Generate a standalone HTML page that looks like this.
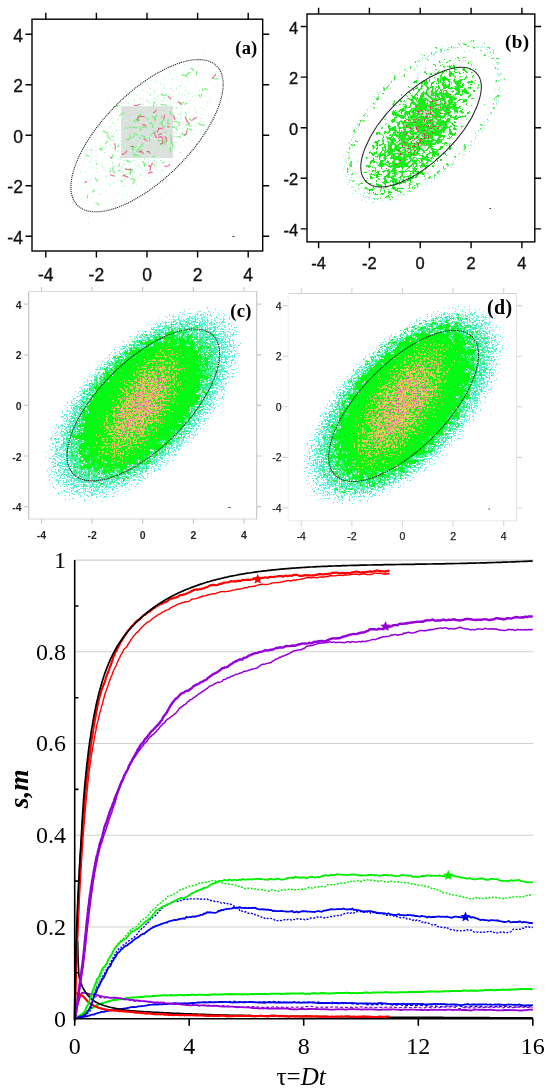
<!DOCTYPE html><html><head><meta charset="utf-8"><title>figure</title><style>html,body{margin:0;padding:0;background:#fff;width:550px;height:1092px;overflow:hidden}</style></head><body><svg width="550" height="1092" viewBox="0 0 550 1092" style="display:block">
<rect width="550" height="1092" fill="#fff"/>
<defs><filter id="fa3" filterUnits="userSpaceOnUse" x="33" y="20" width="229" height="230" color-interpolation-filters="sRGB"><feComponentTransfer in="SourceAlpha" result="M"><feFuncA type="linear" slope="60" intercept="-0.5"/></feComponentTransfer><feTurbulence type="fractalNoise" baseFrequency="0.5" numOctaves="1" seed="33"/><feColorMatrix type="matrix" values="0 0 0 0 0 0 0 0 0 0 0 0 0 0 0 1 0 0 0 0"/><feComposite in2="SourceAlpha" operator="arithmetic" k1="0" k2="4.0" k3="1" k4="-2.9500"/><feComponentTransfer><feFuncA type="linear" slope="40" intercept="-20.0"/></feComponentTransfer><feComposite in2="M" operator="in" result="R"/><feFlood flood-color="#c8f8d8"/><feComposite in2="R" operator="in"/></filter></defs><rect x="121.2" y="106.2" width="51.8" height="51.8" fill="#dedede"/><g filter="url(#fa3)"><ellipse transform="translate(147.1 135.7) rotate(-45)" rx="125.0" ry="62.0" fill="url(#gr2)"/></g><path d="M107.6 141.3l-1.2 1.2l-0.7 1.2M184.8 135.3l-1.6 -0.6l-0.9 -2.0M97.5 181.3l-1.2 -1.4l-0.9 -2.0M134.1 156.5l-0.1 -2.2l-0.7 -1.1M110.7 170.6l-1.0 1.3M99.4 148.8l1.6 0.7l1.1 1.0M139.1 115.2l-0.8 1.1l-0.7 1.2M122.2 176.3l2.0 -1.0l1.5 0.4M218.1 78.1l-1.7 1.0l-2.0 -0.3l-1.6 -0.4M157.0 115.0l-1.4 0.9l-1.0 1.6l0.2 2.3M122.2 181.8l-1.2 -1.2M101.4 148.8l1.1 -1.3M139.5 130.5l1.3 -1.0l-0.0 -1.5M138.8 148.4l-1.4 1.6l-0.7 1.3M136.0 147.1l-1.9 0.9l-1.7 0.5M169.6 111.6l1.4 1.8l1.1 1.4M141.4 149.5l-1.1 1.3l-0.3 2.0M149.9 141.3l-0.4 -1.3l-0.2 -1.5l0.1 -1.3M201.6 94.1l-0.3 1.7M174.0 122.0l1.9 -0.7l1.7 1.2l2.2 0.2M124.1 113.0l-1.3 0.5l-1.6 0.9l-1.7 1.3M163.9 142.8l-1.8 1.0l-1.7 0.8M107.9 132.5l-1.5 0.2l-1.8 -1.0l-1.5 -0.4M161.0 116.8l1.5 0.4M196.8 71.4l-0.3 1.5l0.2 1.8M170.4 135.1l0.6 2.1l0.3 2.0l0.2 1.5M134.4 181.2l-0.5 1.2l-1.3 0.8M172.5 127.4l1.5 -0.3l1.8 1.3l1.5 1.6M140.1 138.4l-1.0 -1.0M155.2 156.2l-2.2 0.4M87.7 195.4l-0.3 1.3l-0.1 1.5M128.5 139.2l-1.4 0.2l-1.3 0.6M184.9 104.3l1.9 -1.1M163.8 119.5l-1.3 1.8l-0.6 1.2l-0.4 1.4M164.5 139.4l-0.0 1.7l0.0 2.0l0.3 1.6M166.4 95.1l-1.8 0.4l-1.9 -0.2l-1.2 -1.7M137.4 134.9l-1.3 -0.6l-1.7 -0.5M178.5 101.3l1.0 1.2l2.1 0.3l2.1 -0.1M135.2 122.2l-1.4 -0.9M158.3 140.4l2.1 0.5M130.8 178.7l2.2 0.1l1.2 0.6l0.9 1.3M125.6 127.5l1.4 0.9M109.7 139.2l-1.3 -1.4l-0.5 -2.0l-0.0 -1.8M160.4 122.3l-0.4 1.3M117.5 146.1l1.5 -0.3M162.9 162.6l1.6 -0.5M191.4 121.0l-0.9 -1.6l-1.3 -0.4M91.4 149.3l-0.4 1.3M113.0 154.8l-0.3 1.4l-0.9 2.1M146.7 118.1l1.5 1.1M113.9 106.9l1.4 -0.7l2.2 -0.3l1.5 -0.2M161.5 104.7l1.5 -0.2l1.8 0.5l1.8 0.2M155.0 165.9l-0.9 -1.2M154.4 102.0l-0.6 2.0l-0.6 2.1M140.6 114.2l-0.6 1.9l-1.1 1.1M155.1 117.1l0.6 2.1l-0.3 1.7M130.2 145.9l1.7 0.9l1.0 2.0l0.2 1.9M128.8 139.6l1.3 -1.2l1.3 -0.9M112.9 167.2l-0.1 2.3l0.6 2.1l0.8 1.7M161.9 124.2l1.1 2.0l1.6 0.8M178.4 124.1l1.5 1.3M118.3 170.6l1.9 -0.1M181.7 74.7l1.4 0.2l2.1 0.6l1.9 1.0M168.9 124.3l-1.1 -1.4l0.1 -1.7l0.5 -1.7M134.5 154.4l1.4 0.2l1.6 0.6l1.3 1.1M170.6 142.0l1.5 1.3l0.6 1.6l-0.0 2.1M130.4 168.5l0.2 1.7l-0.1 1.9l-0.2 2.0M143.5 143.7l-1.3 1.2l-1.4 1.6l-1.0 1.0M86.0 155.1l1.3 0.7l1.7 0.2M92.6 192.2l1.1 -1.4l0.4 -1.2M165.2 142.7l-1.6 0.6M143.9 164.4l0.2 -1.6l-1.6 -1.4M150.7 123.0l1.5 1.1l0.2 1.5l0.5 2.2M198.4 123.4l1.7 1.0l2.1 0.5l2.2 0.2M96.2 164.4l1.1 -0.9M130.1 135.3l0.2 1.3M145.7 138.1l-1.4 -1.6l-1.8 -0.5l-1.3 -0.8M130.2 161.7l-1.6 0.0l-1.9 -0.8M132.4 170.2l-1.4 1.2l-0.3 1.3l-1.4 1.3M190.3 72.5l-1.4 0.2l-1.1 1.0l-1.6 1.5M186.7 130.4l1.2 -1.7l2.1 0.6l2.0 0.9M96.2 203.2l1.3 0.5l1.1 1.2M186.8 124.6l1.7 -0.4l1.6 1.6l1.4 0.2M193.5 70.3l-1.2 -1.7l-1.5 0.0M206.8 89.8l-1.5 -1.0l-1.6 0.3l-1.5 1.4M198.8 95.0l0.9 1.0l0.4 1.3M170.7 151.4l-0.1 -1.7l-0.9 -2.0M132.9 127.3l2.2 0.4l2.1 -0.0M180.7 137.1l-1.4 -0.6l-1.6 -0.2M146.3 127.9l-1.5 -1.1l-1.4 0.3l-2.0 -0.3M165.1 131.8l1.0 0.9M113.6 136.2l-1.7 -0.2M153.4 116.4l-0.9 1.0M118.8 165.9l0.6 -1.9M145.1 164.2l-0.5 1.9M155.8 131.0l-1.9 0.8l-1.4 1.8l-1.5 1.5M130.8 127.2l-1.5 0.1M133.3 137.2l1.2 -1.6M149.5 123.2l1.9 -0.2M134.6 120.2l1.8 -0.6l2.2 -0.0l1.0 1.3" stroke="#60f060" stroke-width="1.15" fill="none" stroke-linecap="round" stroke-linejoin="round" opacity="0.85"/><path d="M187.0 131.0l-0.3 1.9l-1.0 1.3l-1.2 0.8M158.7 135.0l1.9 -1.0l1.3 -0.4M186.8 121.5l-0.1 -1.5l-1.0 -1.8l-0.5 -1.3M113.9 175.9l-1.6 -0.4l-2.0 -0.8M164.5 115.2l-0.1 1.7l-0.7 2.0M148.6 173.8l0.6 -1.2l2.0 -0.5l1.3 0.1M123.8 174.6l1.3 1.7l1.5 0.3l1.5 0.8M162.8 139.1l-0.8 -1.7l-1.5 -0.8l-2.0 1.0M146.0 126.0l-1.5 -1.1l-1.8 -0.3M122.1 154.7l1.9 -0.9l1.6 -1.2l1.2 -1.8M114.8 143.5l0.4 2.3l0.2 2.2l-0.6 1.3M168.3 96.6l1.2 1.2l1.3 0.9M160.7 128.4l-1.4 -0.2l-1.2 1.9l-0.7 2.1M85.0 182.1l1.8 -0.2M186.8 120.4l1.0 1.9l1.6 1.4M150.0 153.2l-1.1 -1.6l-1.7 -0.1M138.8 151.9l1.7 -0.3l1.4 0.1l1.4 1.7M173.8 115.5l0.1 1.5l0.5 1.2l0.5 1.5M133.5 146.4l-2.0 0.1M164.8 166.4l1.8 -0.2l2.1 -0.4l0.9 -1.3M134.6 105.4l1.8 0.1l1.6 -0.6l1.5 -0.5M215.4 74.6l-0.6 1.3l-1.5 1.5l-1.1 1.0M162.2 140.3l0.6 1.7l-1.0 1.4l-1.5 0.5M143.9 138.9l1.5 0.8l1.6 1.2M144.3 116.9l-1.5 -0.5l-2.1 0.0M110.1 156.9l1.5 1.0M196.5 117.8l-1.5 0.3l-1.3 0.6l-1.0 1.4M139.4 116.3l-1.3 1.7l-1.0 1.6l0.7 1.2M162.3 127.8l-0.3 1.5M153.4 112.7l1.3 -0.8l1.5 -1.5M148.8 165.4l1.6 1.2l0.2 1.4l-0.6 2.0M125.3 168.7l1.8 0.8l2.0 0.1l2.2 -0.3M154.8 132.6l0.0 1.8l0.7 2.1l1.0 0.9M167.6 126.6l2.0 0.4M164.8 136.8l1.3 1.0l0.3 2.0l0.0 1.8M181.3 104.7l-0.5 -1.3l-1.3 -0.5l-1.4 -1.0M158.9 129.5l-0.3 -1.4M149.0 166.6l1.7 -0.8l1.2 -1.0l0.3 -1.9" stroke="#f04a7a" stroke-width="1.1" fill="none" stroke-linecap="round" stroke-linejoin="round" opacity="0.85"/><ellipse transform="translate(147.06 135.72) rotate(-45)" rx="98.5" ry="43.4" fill="none" stroke="#222" stroke-width="1.1" stroke-dasharray="1.1 0.9"/>
<defs><filter id="fb0" filterUnits="userSpaceOnUse" x="308" y="15" width="226" height="226" color-interpolation-filters="sRGB"><feComponentTransfer in="SourceAlpha" result="M"><feFuncA type="linear" slope="60" intercept="-0.5"/></feComponentTransfer><feTurbulence type="fractalNoise" baseFrequency="0.1" numOctaves="2" seed="40"/><feColorMatrix type="matrix" values="0 0 0 0 0 0 0 0 0 0 0 0 0 0 0 1 0 0 0 0"/><feComposite in2="SourceAlpha" operator="arithmetic" k1="0" k2="1.0" k3="1" k4="-0.4500"/><feComponentTransfer><feFuncA type="linear" slope="40" intercept="-20.0"/></feComponentTransfer><feComposite in2="M" operator="in" result="R"/><feFlood flood-color="#e0dcdc"/><feComposite in2="R" operator="in"/></filter><filter id="fb1" filterUnits="userSpaceOnUse" x="308" y="15" width="226" height="226" color-interpolation-filters="sRGB"><feComponentTransfer in="SourceAlpha" result="M"><feFuncA type="linear" slope="60" intercept="-0.5"/></feComponentTransfer><feTurbulence type="fractalNoise" baseFrequency="0.55" numOctaves="2" seed="41"/><feColorMatrix type="matrix" values="0 0 0 0 0 0 0 0 0 0 0 0 0 0 0 1 0 0 0 0"/><feComposite in2="SourceAlpha" operator="arithmetic" k1="0" k2="2.0" k3="1" k4="-1.7000"/><feComponentTransfer><feFuncA type="linear" slope="40" intercept="-20.0"/></feComponentTransfer><feComposite in2="M" operator="in" result="R"/><feFlood flood-color="#a0f0e0"/><feComposite in2="R" operator="in"/></filter><filter id="fb2" filterUnits="userSpaceOnUse" x="308" y="15" width="226" height="226" color-interpolation-filters="sRGB"><feComponentTransfer in="SourceAlpha" result="M"><feFuncA type="linear" slope="60" intercept="-0.5"/></feComponentTransfer><feTurbulence type="fractalNoise" baseFrequency="0.25" numOctaves="2" seed="43"/><feColorMatrix type="matrix" values="0 0 0 0 0 0 0 0 0 0 0 0 0 0 0 1 0 0 0 0"/><feComposite in2="SourceAlpha" operator="arithmetic" k1="0" k2="1.2" k3="1" k4="-0.3400"/><feComponentTransfer><feFuncA type="linear" slope="40" intercept="-20.0"/></feComponentTransfer><feComposite in2="M" operator="in" result="R"/><feTurbulence type="fractalNoise" baseFrequency="0.18" numOctaves="1" seed="42"/><feColorMatrix type="matrix" values="0 0 0 0 0 0 0 0 0 0 0 0 0 0 0 1 0 0 0 0"/><feComponentTransfer><feFuncA type="table" tableValues="0 0 0 0 1 0 0 0 0"/></feComponentTransfer><feComponentTransfer><feFuncA type="linear" slope="3" intercept="-0.8"/></feComponentTransfer><feComposite in2="R" operator="in" result="LR"/><feFlood flood-color="#10ee10"/><feComposite in2="LR" operator="in"/></filter><filter id="fb5" filterUnits="userSpaceOnUse" x="308" y="15" width="226" height="226" color-interpolation-filters="sRGB"><feComponentTransfer in="SourceAlpha" result="M"><feFuncA type="linear" slope="60" intercept="-0.5"/></feComponentTransfer><feTurbulence type="fractalNoise" baseFrequency="0.25" numOctaves="2" seed="53"/><feColorMatrix type="matrix" values="0 0 0 0 0 0 0 0 0 0 0 0 0 0 0 1 0 0 0 0"/><feComposite in2="SourceAlpha" operator="arithmetic" k1="0" k2="1.5" k3="1" k4="-0.5900"/><feComponentTransfer><feFuncA type="linear" slope="40" intercept="-20.0"/></feComponentTransfer><feComposite in2="M" operator="in" result="R"/><feTurbulence type="fractalNoise" baseFrequency="0.22" numOctaves="1" seed="52"/><feColorMatrix type="matrix" values="0 0 0 0 0 0 0 0 0 0 0 0 0 0 0 1 0 0 0 0"/><feComponentTransfer><feFuncA type="table" tableValues="0 0 0 0 0 1 0 0 0 0 0"/></feComponentTransfer><feComponentTransfer><feFuncA type="linear" slope="3" intercept="-0.8"/></feComponentTransfer><feComposite in2="R" operator="in" result="LR"/><feFlood flood-color="#20e820"/><feComposite in2="LR" operator="in"/></filter><filter id="fb3" filterUnits="userSpaceOnUse" x="308" y="15" width="226" height="226" color-interpolation-filters="sRGB"><feComponentTransfer in="SourceAlpha" result="M"><feFuncA type="linear" slope="60" intercept="-0.5"/></feComponentTransfer><feTurbulence type="fractalNoise" baseFrequency="0.3" numOctaves="1" seed="45"/><feColorMatrix type="matrix" values="0 0 0 0 0 0 0 0 0 0 0 0 0 0 0 1 0 0 0 0"/><feComposite in2="SourceAlpha" operator="arithmetic" k1="0" k2="2.0" k3="1" k4="-1.5000"/><feComponentTransfer><feFuncA type="linear" slope="40" intercept="-20.0"/></feComponentTransfer><feComposite in2="M" operator="in" result="R"/><feTurbulence type="fractalNoise" baseFrequency="0.2" numOctaves="1" seed="44"/><feColorMatrix type="matrix" values="0 0 0 0 0 0 0 0 0 0 0 0 0 0 0 1 0 0 0 0"/><feComponentTransfer><feFuncA type="table" tableValues="0 0 0 0 0 1 0 0 0 0 0"/></feComponentTransfer><feComponentTransfer><feFuncA type="linear" slope="3" intercept="-0.8"/></feComponentTransfer><feComposite in2="R" operator="in" result="LR"/><feFlood flood-color="#48ee48"/><feComposite in2="LR" operator="in"/></filter><filter id="fb4" filterUnits="userSpaceOnUse" x="308" y="15" width="226" height="226" color-interpolation-filters="sRGB"><feComponentTransfer in="SourceAlpha" result="M"><feFuncA type="linear" slope="60" intercept="-0.5"/></feComponentTransfer><feTurbulence type="fractalNoise" baseFrequency="0.5" numOctaves="2" seed="46"/><feColorMatrix type="matrix" values="0 0 0 0 0 0 0 0 0 0 0 0 0 0 0 1 0 0 0 0"/><feComposite in2="SourceAlpha" operator="arithmetic" k1="0" k2="3.0" k3="1" k4="-2.4000"/><feComponentTransfer><feFuncA type="linear" slope="40" intercept="-20.0"/></feComponentTransfer><feComposite in2="M" operator="in" result="R"/><feFlood flood-color="#e83058"/><feComposite in2="R" operator="in"/></filter><filter id="fb6" filterUnits="userSpaceOnUse" x="308" y="15" width="226" height="226" color-interpolation-filters="sRGB"><feComponentTransfer in="SourceAlpha" result="M"><feFuncA type="linear" slope="60" intercept="-0.5"/></feComponentTransfer><feTurbulence type="fractalNoise" baseFrequency="0.3" numOctaves="1" seed="63"/><feColorMatrix type="matrix" values="0 0 0 0 0 0 0 0 0 0 0 0 0 0 0 1 0 0 0 0"/><feComposite in2="SourceAlpha" operator="arithmetic" k1="0" k2="2.0" k3="1" k4="-1.7000"/><feComponentTransfer><feFuncA type="linear" slope="40" intercept="-20.0"/></feComponentTransfer><feComposite in2="M" operator="in" result="R"/><feTurbulence type="fractalNoise" baseFrequency="0.2" numOctaves="1" seed="62"/><feColorMatrix type="matrix" values="0 0 0 0 0 0 0 0 0 0 0 0 0 0 0 1 0 0 0 0"/><feComponentTransfer><feFuncA type="table" tableValues="0 0 0 0 0 1 0 0 0 0 0"/></feComponentTransfer><feComponentTransfer><feFuncA type="linear" slope="3" intercept="-0.8"/></feComponentTransfer><feComposite in2="R" operator="in" result="LR"/><feFlood flood-color="#30ea30"/><feComposite in2="LR" operator="in"/></filter></defs><g filter="url(#fb0)"><ellipse transform="translate(420.1 128.6) rotate(-55)" rx="70.0" ry="30.0" fill="url(#gr1_0)"/></g><g filter="url(#fb1)"><ellipse transform="translate(423.1 122.1) rotate(-45)" rx="114.0" ry="60.0" fill="url(#ringb)"/></g><g filter="url(#fb3)"><ellipse transform="translate(424.1 119.1) rotate(-45)" rx="112.0" ry="58.0" fill="url(#ringb)"/></g><g filter="url(#fb6)"><ellipse transform="translate(421.1 127.1) rotate(-45)" rx="80.0" ry="36.0" fill="url(#gr3)"/></g><g filter="url(#fb2)"><ellipse transform="translate(420.1 128.6) rotate(-55)" rx="90.0" ry="38.0" fill="url(#gr1_0)"/></g><g filter="url(#fb5)"><ellipse transform="translate(420.1 128.6) rotate(-55)" rx="86.0" ry="36.0" fill="url(#gr1_0)"/></g><g filter="url(#fb4)"><ellipse transform="translate(420.1 129.1) rotate(-55)" rx="72.0" ry="30.0" fill="url(#gr2)"/></g><ellipse transform="translate(421.07 127.13) rotate(-44.7)" rx="77.4" ry="34.5" fill="none" stroke="#2a2a2a" stroke-width="1.05"/>
<defs><filter id="fc0" filterUnits="userSpaceOnUse" x="29.5" y="292.5" width="226.5" height="226" color-interpolation-filters="sRGB"><feComponentTransfer in="SourceAlpha" result="M"><feFuncA type="linear" slope="60" intercept="-0.5"/></feComponentTransfer><feTurbulence type="fractalNoise" baseFrequency="0.55" numOctaves="2" seed="3"/><feColorMatrix type="matrix" values="0 0 0 0 0 0 0 0 0 0 0 0 0 0 0 1 0 0 0 0"/><feComposite in2="SourceAlpha" operator="arithmetic" k1="0" k2="0.8" k3="1" k4="-0.0500"/><feComponentTransfer><feFuncA type="linear" slope="40" intercept="-20.0"/></feComponentTransfer><feComposite in2="M" operator="in" result="R"/><feTurbulence type="fractalNoise" baseFrequency="0.6" numOctaves="1" seed="77"/><feColorMatrix type="matrix" values="0 0 0 0 0 0 0 0 0 0 0 0 0 0 0 1 0 0 0 0"/><feComponentTransfer><feFuncA type="linear" slope="40" intercept="-16.000"/></feComponentTransfer><feComposite in2="R" operator="in" result="RK"/><feFlood flood-color="#5cf4ea"/><feComposite in2="RK" operator="in"/></filter><filter id="fc1" filterUnits="userSpaceOnUse" x="29.5" y="292.5" width="226.5" height="226" color-interpolation-filters="sRGB"><feComponentTransfer in="SourceAlpha" result="M"><feFuncA type="linear" slope="60" intercept="-0.5"/></feComponentTransfer><feTurbulence type="fractalNoise" baseFrequency="0.55" numOctaves="2" seed="9"/><feColorMatrix type="matrix" values="0 0 0 0 0 0 0 0 0 0 0 0 0 0 0 1 0 0 0 0"/><feComposite in2="SourceAlpha" operator="arithmetic" k1="0" k2="0.8" k3="1" k4="-0.0500"/><feComponentTransfer><feFuncA type="linear" slope="40" intercept="-20.0"/></feComponentTransfer><feComposite in2="M" operator="in" result="R"/><feTurbulence type="fractalNoise" baseFrequency="0.6" numOctaves="1" seed="77"/><feColorMatrix type="matrix" values="0 0 0 0 0 0 0 0 0 0 0 0 0 0 0 1 0 0 0 0"/><feComponentTransfer><feFuncA type="linear" slope="40" intercept="-16.000"/></feComponentTransfer><feComposite in2="R" operator="in" result="RK"/><feFlood flood-color="#4cf0b8"/><feComposite in2="RK" operator="in"/></filter><filter id="fc2" filterUnits="userSpaceOnUse" x="29.5" y="292.5" width="226.5" height="226" color-interpolation-filters="sRGB"><feComponentTransfer in="SourceAlpha" result="M"><feFuncA type="linear" slope="60" intercept="-0.5"/></feComponentTransfer><feTurbulence type="fractalNoise" baseFrequency="0.35" numOctaves="2" seed="11"/><feColorMatrix type="matrix" values="0 0 0 0 0 0 0 0 0 0 0 0 0 0 0 1 0 0 0 0"/><feComposite in2="SourceAlpha" operator="arithmetic" k1="0" k2="1.0" k3="1" k4="-0.1500"/><feComponentTransfer><feFuncA type="linear" slope="40" intercept="-20.0"/></feComponentTransfer><feComposite in2="M" operator="in" result="R"/><feTurbulence type="fractalNoise" baseFrequency="0.6" numOctaves="1" seed="77"/><feColorMatrix type="matrix" values="0 0 0 0 0 0 0 0 0 0 0 0 0 0 0 1 0 0 0 0"/><feComponentTransfer><feFuncA type="linear" slope="40" intercept="-16.000"/></feComponentTransfer><feComposite in2="R" operator="in" result="RK"/><feFlood flood-color="#28f058"/><feComposite in2="RK" operator="in"/></filter><filter id="fc3" filterUnits="userSpaceOnUse" x="29.5" y="292.5" width="226.5" height="226" color-interpolation-filters="sRGB"><feComponentTransfer in="SourceAlpha" result="M"><feFuncA type="linear" slope="60" intercept="-0.5"/></feComponentTransfer><feTurbulence type="fractalNoise" baseFrequency="0.2" numOctaves="3" seed="5"/><feColorMatrix type="matrix" values="0 0 0 0 0 0 0 0 0 0 0 0 0 0 0 1 0 0 0 0"/><feComposite in2="SourceAlpha" operator="arithmetic" k1="0" k2="0.5" k3="1" k4="0.1000"/><feComponentTransfer><feFuncA type="linear" slope="40" intercept="-20.0"/></feComponentTransfer><feComposite in2="M" operator="in" result="R"/><feFlood flood-color="#04fa14"/><feComposite in2="R" operator="in"/></filter><filter id="fc4" filterUnits="userSpaceOnUse" x="29.5" y="292.5" width="226.5" height="226" color-interpolation-filters="sRGB"><feComponentTransfer in="SourceAlpha" result="M"><feFuncA type="linear" slope="60" intercept="-0.5"/></feComponentTransfer><feTurbulence type="fractalNoise" baseFrequency="0.45" numOctaves="2" seed="17"/><feColorMatrix type="matrix" values="0 0 0 0 0 0 0 0 0 0 0 0 0 0 0 1 0 0 0 0"/><feComposite in2="SourceAlpha" operator="arithmetic" k1="0" k2="3.0" k3="1" k4="-1.8400"/><feComponentTransfer><feFuncA type="linear" slope="40" intercept="-20.0"/></feComponentTransfer><feComposite in2="M" operator="in" result="R"/><feFlood flood-color="#c4e448"/><feComposite in2="R" operator="in"/></filter><filter id="fc5" filterUnits="userSpaceOnUse" x="29.5" y="292.5" width="226.5" height="226" color-interpolation-filters="sRGB"><feComponentTransfer in="SourceAlpha" result="M"><feFuncA type="linear" slope="60" intercept="-0.5"/></feComponentTransfer><feTurbulence type="fractalNoise" baseFrequency="0.5" numOctaves="2" seed="7"/><feColorMatrix type="matrix" values="0 0 0 0 0 0 0 0 0 0 0 0 0 0 0 1 0 0 0 0"/><feComposite in2="SourceAlpha" operator="arithmetic" k1="0" k2="3.0" k3="1" k4="-1.9800"/><feComponentTransfer><feFuncA type="linear" slope="40" intercept="-20.0"/></feComponentTransfer><feComposite in2="M" operator="in" result="R"/><feFlood flood-color="#ecb862"/><feComposite in2="R" operator="in"/></filter><filter id="fc6" filterUnits="userSpaceOnUse" x="29.5" y="292.5" width="226.5" height="226" color-interpolation-filters="sRGB"><feComponentTransfer in="SourceAlpha" result="M"><feFuncA type="linear" slope="60" intercept="-0.5"/></feComponentTransfer><feTurbulence type="fractalNoise" baseFrequency="0.55" numOctaves="2" seed="13"/><feColorMatrix type="matrix" values="0 0 0 0 0 0 0 0 0 0 0 0 0 0 0 1 0 0 0 0"/><feComposite in2="SourceAlpha" operator="arithmetic" k1="0" k2="3.0" k3="1" k4="-2.1600"/><feComponentTransfer><feFuncA type="linear" slope="40" intercept="-20.0"/></feComponentTransfer><feComposite in2="M" operator="in" result="R"/><feFlood flood-color="#ec9890"/><feComposite in2="R" operator="in"/></filter><filter id="fc7" filterUnits="userSpaceOnUse" x="29.5" y="292.5" width="226.5" height="226" color-interpolation-filters="sRGB"><feComponentTransfer in="SourceAlpha" result="M"><feFuncA type="linear" slope="60" intercept="-0.5"/></feComponentTransfer><feTurbulence type="fractalNoise" baseFrequency="0.6" numOctaves="2" seed="23"/><feColorMatrix type="matrix" values="0 0 0 0 0 0 0 0 0 0 0 0 0 0 0 1 0 0 0 0"/><feComposite in2="SourceAlpha" operator="arithmetic" k1="0" k2="3.0" k3="1" k4="-2.4500"/><feComponentTransfer><feFuncA type="linear" slope="40" intercept="-20.0"/></feComponentTransfer><feComposite in2="M" operator="in" result="R"/><feFlood flood-color="#dc60c8"/><feComposite in2="R" operator="in"/></filter></defs><g filter="url(#fc0)"><ellipse transform="translate(143.3 404.9) rotate(-45)" rx="127.1" ry="62.4" fill="url(#gr1_0)"/></g><g filter="url(#fc1)"><ellipse transform="translate(142.8 404.4) rotate(-45)" rx="118.8" ry="57.6" fill="url(#gr1_0)"/></g><g filter="url(#fc2)"><ellipse transform="translate(141.8 404.0) rotate(-48)" rx="103.5" ry="55.3" fill="url(#gr1_0)"/></g><g filter="url(#fc3)"><ellipse transform="translate(141.2 403.6) rotate(-49)" rx="95.3" ry="52.9" fill="url(#gr1_0)"/></g><g filter="url(#fc4)"><ellipse transform="translate(141.0 406.0) rotate(-58)" rx="80.0" ry="33.0" fill="url(#gr2)"/></g><g filter="url(#fc5)"><ellipse transform="translate(141.0 406.0) rotate(-58)" rx="80.0" ry="33.0" fill="url(#gr2)"/></g><g filter="url(#fc6)"><ellipse transform="translate(141.0 406.0) rotate(-58)" rx="80.0" ry="33.0" fill="url(#gr2)"/></g><g filter="url(#fc7)"><ellipse transform="translate(141.0 406.0) rotate(-58)" rx="80.0" ry="33.0" fill="url(#gr2)"/></g><ellipse transform="translate(143.35 404.90) rotate(-44.8)" rx="98.4" ry="43.7" fill="none" stroke="#1a1a1a" stroke-width="1.0" stroke-dasharray="1.3 0.7"/>
<defs><filter id="fd0" filterUnits="userSpaceOnUse" x="289" y="294" width="227" height="226" color-interpolation-filters="sRGB"><feComponentTransfer in="SourceAlpha" result="M"><feFuncA type="linear" slope="60" intercept="-0.5"/></feComponentTransfer><feTurbulence type="fractalNoise" baseFrequency="0.55" numOctaves="2" seed="3"/><feColorMatrix type="matrix" values="0 0 0 0 0 0 0 0 0 0 0 0 0 0 0 1 0 0 0 0"/><feComposite in2="SourceAlpha" operator="arithmetic" k1="0" k2="0.8" k3="1" k4="-0.0500"/><feComponentTransfer><feFuncA type="linear" slope="40" intercept="-20.0"/></feComponentTransfer><feComposite in2="M" operator="in" result="R"/><feTurbulence type="fractalNoise" baseFrequency="0.6" numOctaves="1" seed="77"/><feColorMatrix type="matrix" values="0 0 0 0 0 0 0 0 0 0 0 0 0 0 0 1 0 0 0 0"/><feComponentTransfer><feFuncA type="linear" slope="40" intercept="-16.000"/></feComponentTransfer><feComposite in2="R" operator="in" result="RK"/><feFlood flood-color="#5cf4ea"/><feComposite in2="RK" operator="in"/></filter><filter id="fd1" filterUnits="userSpaceOnUse" x="289" y="294" width="227" height="226" color-interpolation-filters="sRGB"><feComponentTransfer in="SourceAlpha" result="M"><feFuncA type="linear" slope="60" intercept="-0.5"/></feComponentTransfer><feTurbulence type="fractalNoise" baseFrequency="0.55" numOctaves="2" seed="9"/><feColorMatrix type="matrix" values="0 0 0 0 0 0 0 0 0 0 0 0 0 0 0 1 0 0 0 0"/><feComposite in2="SourceAlpha" operator="arithmetic" k1="0" k2="0.8" k3="1" k4="-0.0500"/><feComponentTransfer><feFuncA type="linear" slope="40" intercept="-20.0"/></feComponentTransfer><feComposite in2="M" operator="in" result="R"/><feTurbulence type="fractalNoise" baseFrequency="0.6" numOctaves="1" seed="77"/><feColorMatrix type="matrix" values="0 0 0 0 0 0 0 0 0 0 0 0 0 0 0 1 0 0 0 0"/><feComponentTransfer><feFuncA type="linear" slope="40" intercept="-16.000"/></feComponentTransfer><feComposite in2="R" operator="in" result="RK"/><feFlood flood-color="#4cf0b8"/><feComposite in2="RK" operator="in"/></filter><filter id="fd2" filterUnits="userSpaceOnUse" x="289" y="294" width="227" height="226" color-interpolation-filters="sRGB"><feComponentTransfer in="SourceAlpha" result="M"><feFuncA type="linear" slope="60" intercept="-0.5"/></feComponentTransfer><feTurbulence type="fractalNoise" baseFrequency="0.35" numOctaves="2" seed="11"/><feColorMatrix type="matrix" values="0 0 0 0 0 0 0 0 0 0 0 0 0 0 0 1 0 0 0 0"/><feComposite in2="SourceAlpha" operator="arithmetic" k1="0" k2="1.0" k3="1" k4="-0.1500"/><feComponentTransfer><feFuncA type="linear" slope="40" intercept="-20.0"/></feComponentTransfer><feComposite in2="M" operator="in" result="R"/><feTurbulence type="fractalNoise" baseFrequency="0.6" numOctaves="1" seed="77"/><feColorMatrix type="matrix" values="0 0 0 0 0 0 0 0 0 0 0 0 0 0 0 1 0 0 0 0"/><feComponentTransfer><feFuncA type="linear" slope="40" intercept="-16.000"/></feComponentTransfer><feComposite in2="R" operator="in" result="RK"/><feFlood flood-color="#28f058"/><feComposite in2="RK" operator="in"/></filter><filter id="fd3" filterUnits="userSpaceOnUse" x="289" y="294" width="227" height="226" color-interpolation-filters="sRGB"><feComponentTransfer in="SourceAlpha" result="M"><feFuncA type="linear" slope="60" intercept="-0.5"/></feComponentTransfer><feTurbulence type="fractalNoise" baseFrequency="0.2" numOctaves="3" seed="5"/><feColorMatrix type="matrix" values="0 0 0 0 0 0 0 0 0 0 0 0 0 0 0 1 0 0 0 0"/><feComposite in2="SourceAlpha" operator="arithmetic" k1="0" k2="0.5" k3="1" k4="0.1000"/><feComponentTransfer><feFuncA type="linear" slope="40" intercept="-20.0"/></feComponentTransfer><feComposite in2="M" operator="in" result="R"/><feFlood flood-color="#04fa14"/><feComposite in2="R" operator="in"/></filter><filter id="fd4" filterUnits="userSpaceOnUse" x="289" y="294" width="227" height="226" color-interpolation-filters="sRGB"><feComponentTransfer in="SourceAlpha" result="M"><feFuncA type="linear" slope="60" intercept="-0.5"/></feComponentTransfer><feTurbulence type="fractalNoise" baseFrequency="0.45" numOctaves="2" seed="17"/><feColorMatrix type="matrix" values="0 0 0 0 0 0 0 0 0 0 0 0 0 0 0 1 0 0 0 0"/><feComposite in2="SourceAlpha" operator="arithmetic" k1="0" k2="3.0" k3="1" k4="-1.8400"/><feComponentTransfer><feFuncA type="linear" slope="40" intercept="-20.0"/></feComponentTransfer><feComposite in2="M" operator="in" result="R"/><feFlood flood-color="#c4e448"/><feComposite in2="R" operator="in"/></filter><filter id="fd5" filterUnits="userSpaceOnUse" x="289" y="294" width="227" height="226" color-interpolation-filters="sRGB"><feComponentTransfer in="SourceAlpha" result="M"><feFuncA type="linear" slope="60" intercept="-0.5"/></feComponentTransfer><feTurbulence type="fractalNoise" baseFrequency="0.5" numOctaves="2" seed="7"/><feColorMatrix type="matrix" values="0 0 0 0 0 0 0 0 0 0 0 0 0 0 0 1 0 0 0 0"/><feComposite in2="SourceAlpha" operator="arithmetic" k1="0" k2="3.0" k3="1" k4="-1.9800"/><feComponentTransfer><feFuncA type="linear" slope="40" intercept="-20.0"/></feComponentTransfer><feComposite in2="M" operator="in" result="R"/><feFlood flood-color="#ecb862"/><feComposite in2="R" operator="in"/></filter><filter id="fd6" filterUnits="userSpaceOnUse" x="289" y="294" width="227" height="226" color-interpolation-filters="sRGB"><feComponentTransfer in="SourceAlpha" result="M"><feFuncA type="linear" slope="60" intercept="-0.5"/></feComponentTransfer><feTurbulence type="fractalNoise" baseFrequency="0.55" numOctaves="2" seed="13"/><feColorMatrix type="matrix" values="0 0 0 0 0 0 0 0 0 0 0 0 0 0 0 1 0 0 0 0"/><feComposite in2="SourceAlpha" operator="arithmetic" k1="0" k2="3.0" k3="1" k4="-2.1600"/><feComponentTransfer><feFuncA type="linear" slope="40" intercept="-20.0"/></feComponentTransfer><feComposite in2="M" operator="in" result="R"/><feFlood flood-color="#ec9890"/><feComposite in2="R" operator="in"/></filter><filter id="fd7" filterUnits="userSpaceOnUse" x="289" y="294" width="227" height="226" color-interpolation-filters="sRGB"><feComponentTransfer in="SourceAlpha" result="M"><feFuncA type="linear" slope="60" intercept="-0.5"/></feComponentTransfer><feTurbulence type="fractalNoise" baseFrequency="0.6" numOctaves="2" seed="23"/><feColorMatrix type="matrix" values="0 0 0 0 0 0 0 0 0 0 0 0 0 0 0 1 0 0 0 0"/><feComposite in2="SourceAlpha" operator="arithmetic" k1="0" k2="3.0" k3="1" k4="-2.4500"/><feComponentTransfer><feFuncA type="linear" slope="40" intercept="-20.0"/></feComponentTransfer><feComposite in2="M" operator="in" result="R"/><feFlood flood-color="#dc60c8"/><feComposite in2="R" operator="in"/></filter></defs><g filter="url(#fd0)"><ellipse transform="translate(403.6 405.9) rotate(-45)" rx="129.4" ry="64.7" fill="url(#gr1_0)"/></g><g filter="url(#fd1)"><ellipse transform="translate(403.0 405.2) rotate(-45)" rx="122.4" ry="60.0" fill="url(#gr1_0)"/></g><g filter="url(#fd2)"><ellipse transform="translate(403.6 404.5) rotate(-48)" rx="112.9" ry="58.8" fill="url(#gr1_0)"/></g><g filter="url(#fd3)"><ellipse transform="translate(403.6 403.6) rotate(-50)" rx="105.9" ry="56.5" fill="url(#gr1_0)"/></g><g filter="url(#fd4)"><ellipse transform="translate(402.0 405.0) rotate(-56)" rx="88.0" ry="37.0" fill="url(#gr2)"/></g><g filter="url(#fd5)"><ellipse transform="translate(402.0 405.0) rotate(-56)" rx="88.0" ry="37.0" fill="url(#gr2)"/></g><g filter="url(#fd6)"><ellipse transform="translate(402.0 405.0) rotate(-56)" rx="88.0" ry="37.0" fill="url(#gr2)"/></g><g filter="url(#fd7)"><ellipse transform="translate(402.0 405.0) rotate(-56)" rx="88.0" ry="37.0" fill="url(#gr2)"/></g><ellipse transform="translate(403.67 405.92) rotate(-45.36)" rx="97.4" ry="42.8" fill="none" stroke="#1a1a1a" stroke-width="1.0" stroke-dasharray="1.3 0.7"/>
<defs><radialGradient id="gr2"><stop offset="0.00" stop-opacity="1.000"/><stop offset="0.10" stop-opacity="0.990"/><stop offset="0.20" stop-opacity="0.960"/><stop offset="0.30" stop-opacity="0.910"/><stop offset="0.40" stop-opacity="0.840"/><stop offset="0.50" stop-opacity="0.750"/><stop offset="0.60" stop-opacity="0.640"/><stop offset="0.70" stop-opacity="0.510"/><stop offset="0.80" stop-opacity="0.360"/><stop offset="0.90" stop-opacity="0.190"/><stop offset="1.00" stop-opacity="0.000"/></radialGradient><radialGradient id="ringb"><stop offset="0.000" stop-opacity="0.000"/><stop offset="0.660" stop-opacity="0.000"/><stop offset="0.840" stop-opacity="1.000"/><stop offset="1.000" stop-opacity="0.000"/><stop offset="1.000" stop-opacity="0.000"/></radialGradient><radialGradient id="gr1_0"><stop offset="0.00" stop-opacity="1.000"/><stop offset="0.10" stop-opacity="0.900"/><stop offset="0.20" stop-opacity="0.800"/><stop offset="0.30" stop-opacity="0.700"/><stop offset="0.40" stop-opacity="0.600"/><stop offset="0.50" stop-opacity="0.500"/><stop offset="0.60" stop-opacity="0.400"/><stop offset="0.70" stop-opacity="0.300"/><stop offset="0.80" stop-opacity="0.200"/><stop offset="0.90" stop-opacity="0.100"/><stop offset="1.00" stop-opacity="0.000"/></radialGradient><radialGradient id="gr3"><stop offset="0.00" stop-opacity="1.000"/><stop offset="0.10" stop-opacity="0.999"/><stop offset="0.20" stop-opacity="0.992"/><stop offset="0.30" stop-opacity="0.973"/><stop offset="0.40" stop-opacity="0.936"/><stop offset="0.50" stop-opacity="0.875"/><stop offset="0.60" stop-opacity="0.784"/><stop offset="0.70" stop-opacity="0.657"/><stop offset="0.80" stop-opacity="0.488"/><stop offset="0.90" stop-opacity="0.271"/><stop offset="1.00" stop-opacity="0.000"/></radialGradient></defs>
<g font-family="'Liberation Sans', Arial, sans-serif" font-size="17.5" fill="#111" font-weight="normal" stroke="#111" stroke-width="0.35"><rect x="32" y="19.2" width="230.7" height="231.8" fill="none" stroke="#000" stroke-width="1.4"/><path d="M45.8 19.2v-6.5M45.8 251.0v6.5M96.4 19.2v-6.5M96.4 251.0v6.5M147.0 19.2v-6.5M147.0 251.0v6.5M197.6 19.2v-6.5M197.6 251.0v6.5M248.2 19.2v-6.5M248.2 251.0v6.5M32.0 236.2h-6.5M262.7 236.2h6.5M32.0 185.7h-6.5M262.7 185.7h6.5M32.0 135.2h-6.5M262.7 135.2h6.5M32.0 84.8h-6.5M262.7 84.8h6.5M32.0 34.3h-6.5M262.7 34.3h6.5" stroke="#000" stroke-width="1.4" fill="none"/><text x="45.8" y="280.6" text-anchor="middle">-4</text><text x="96.4" y="280.6" text-anchor="middle">-2</text><text x="147.0" y="280.6" text-anchor="middle">0</text><text x="197.6" y="280.6" text-anchor="middle">2</text><text x="248.2" y="280.6" text-anchor="middle">4</text><text x="22.9" y="243.6" text-anchor="end">-4</text><text x="22.9" y="193.1" text-anchor="end">-2</text><text x="22.9" y="142.7" text-anchor="end">0</text><text x="22.9" y="92.2" text-anchor="end">2</text><text x="22.9" y="41.7" text-anchor="end">4</text></g>
<text x="235.3" y="54.3" font-family="'Liberation Serif', 'Times New Roman', serif" font-weight="bold" font-size="18.5" letter-spacing="0.2" fill="#000">(a)</text>
<g font-family="'Liberation Sans', Arial, sans-serif" font-size="16.5" fill="#111" font-weight="normal" stroke="#111" stroke-width="0.35"><rect x="307" y="14" width="227.8" height="227.9" fill="none" stroke="#000" stroke-width="1.4"/><path d="M318.6 14.0v-6.3M318.6 241.9v6.3M369.4 14.0v-6.3M369.4 241.9v6.3M420.2 14.0v-6.3M420.2 241.9v6.3M471.1 14.0v-6.3M471.1 241.9v6.3M521.9 14.0v-6.3M521.9 241.9v6.3M307.0 228.9h-6.3M534.8 228.9h6.3M307.0 178.3h-6.3M534.8 178.3h6.3M307.0 127.7h-6.3M534.8 127.7h6.3M307.0 77.1h-6.3M534.8 77.1h6.3M307.0 26.5h-6.3M534.8 26.5h6.3" stroke="#000" stroke-width="1.4" fill="none"/><text x="318.6" y="269.2" text-anchor="middle">-4</text><text x="369.4" y="269.2" text-anchor="middle">-2</text><text x="420.2" y="269.2" text-anchor="middle">0</text><text x="471.1" y="269.2" text-anchor="middle">2</text><text x="521.9" y="269.2" text-anchor="middle">4</text><text x="298.2" y="236.0" text-anchor="end">-4</text><text x="298.2" y="185.4" text-anchor="end">-2</text><text x="298.2" y="134.8" text-anchor="end">0</text><text x="298.2" y="84.2" text-anchor="end">2</text><text x="298.2" y="33.6" text-anchor="end">4</text></g>
<text x="505" y="48.3" font-family="'Liberation Serif', 'Times New Roman', serif" font-weight="bold" font-size="19" letter-spacing="0.4" fill="#000">(b)</text>
<g font-family="'Liberation Sans', Arial, sans-serif" font-size="10.5" fill="#222" font-weight="bold"><path d="M28.7 290.90V519.60" stroke="#c2c2c2" stroke-width="1.2"/><path d="M28.7 291.5H256.7" stroke="#dcdcdc" stroke-width="1.2"/><path d="M256.7 290.90V519.60" stroke="#c8c8c8" stroke-width="1.2"/><path d="M28.7 519H256.7" stroke="#d4d4d4" stroke-width="1.2"/><path d="M41.5 291.5v-4.5M41.5 519.0v4.5M92.1 291.5v-4.5M92.1 519.0v4.5M142.7 291.5v-4.5M142.7 519.0v4.5M193.3 291.5v-4.5M193.3 519.0v4.5M243.9 291.5v-4.5M243.9 519.0v4.5M28.7 506.6h-4.5M256.7 506.6h4.5M28.7 456.0h-4.5M256.7 456.0h4.5M28.7 405.4h-4.5M256.7 405.4h4.5M28.7 354.8h-4.5M256.7 354.8h4.5M28.7 304.2h-4.5M256.7 304.2h4.5" stroke="#c8c8c8" stroke-width="1.2" fill="none"/><text x="41.5" y="538.8" text-anchor="middle">-4</text><text x="92.1" y="538.8" text-anchor="middle">-2</text><text x="142.7" y="538.8" text-anchor="middle">0</text><text x="193.3" y="538.8" text-anchor="middle">2</text><text x="243.9" y="538.8" text-anchor="middle">4</text><text x="21.5" y="511.2" text-anchor="end">-4</text><text x="21.5" y="460.6" text-anchor="end">-2</text><text x="21.5" y="410.0" text-anchor="end">0</text><text x="21.5" y="359.4" text-anchor="end">2</text><text x="21.5" y="308.8" text-anchor="end">4</text></g>
<text x="230.3" y="316.5" font-family="'Liberation Serif', 'Times New Roman', serif" font-weight="bold" font-size="18.5" letter-spacing="0.3" fill="#000">(c)</text>
<g font-family="'Liberation Sans', Arial, sans-serif" font-size="10.5" fill="#222" font-weight="normal" stroke="#222" stroke-width="0.25"><path d="M288.3 292.95V521.25" stroke="#f2f2f2" stroke-width="1.1"/><path d="M288.3 293.5H516.5" stroke="#d2d2d2" stroke-width="1.1"/><path d="M516.5 292.95V521.25" stroke="#e4e4e4" stroke-width="1.1"/><path d="M288.3 520.7H516.5" stroke="#e8e8e8" stroke-width="1.1"/><path d="M301.3 293.5v-5.5M301.3 520.7v5.5M351.9 293.5v-5.5M351.9 520.7v5.5M402.5 293.5v-5.5M402.5 520.7v5.5M453.1 293.5v-5.5M453.1 520.7v5.5M503.7 293.5v-5.5M503.7 520.7v5.5M288.3 508.0h-5.5M516.5 508.0h5.5M288.3 457.4h-5.5M516.5 457.4h5.5M288.3 406.8h-5.5M516.5 406.8h5.5M288.3 356.2h-5.5M516.5 356.2h5.5M288.3 305.6h-5.5M516.5 305.6h5.5" stroke="#d4d4d4" stroke-width="1.1" fill="none"/><text x="301.3" y="540.0" text-anchor="middle">-4</text><text x="351.9" y="540.0" text-anchor="middle">-2</text><text x="402.5" y="540.0" text-anchor="middle">0</text><text x="453.1" y="540.0" text-anchor="middle">2</text><text x="503.7" y="540.0" text-anchor="middle">4</text><text x="281.5" y="511.9" text-anchor="end">-4</text><text x="281.5" y="461.3" text-anchor="end">-2</text><text x="281.5" y="410.7" text-anchor="end">0</text><text x="281.5" y="360.1" text-anchor="end">2</text><text x="281.5" y="309.5" text-anchor="end">4</text></g>
<text x="487" y="314" font-family="'Liberation Serif', 'Times New Roman', serif" font-weight="bold" font-size="20" letter-spacing="0.4" fill="#000">(d)</text>
<path d="M232.5 236.5h2M489.5 208.5h1.5M228.5 507.5h2M488.5 509h1.5" stroke="#333" stroke-width="1.2"/>
<path d="M74.7 927.0H533.5M74.7 835.3H533.5M74.7 743.5H533.5M74.7 651.8H533.5M74.7 560.1H533.5" stroke="#d0d0d0" stroke-width="1.1" fill="none"/>
<path d="M203.5 1002.2L205.0 1002.1L206.6 1002.0L208.1 1001.8L209.6 1001.6L211.1 1001.6L212.6 1001.9L214.1 1002.1L215.6 1002.4L217.1 1001.9L218.6 1002.3L220.1 1001.8L221.7 1001.8L223.2 1001.7L224.7 1001.7L226.2 1001.9L227.7 1002.0L229.2 1001.7L230.7 1001.5L232.2 1001.6L233.7 1001.3L235.3 1001.4L236.8 1001.9L238.3 1001.9L239.8 1001.7L241.3 1002.0L242.8 1002.0L244.3 1001.9L245.8 1001.8L247.3 1002.1L248.8 1002.3L250.4 1002.1L251.9 1002.0L253.4 1002.2L254.9 1002.2L256.4 1002.0L257.9 1002.1L259.4 1002.2L260.9 1001.9L262.4 1001.7L264.0 1001.9L265.5 1001.8L267.0 1002.0L268.5 1001.6L270.0 1001.7L271.5 1001.7L273.0 1001.5L274.5 1001.7L276.0 1001.7L277.6 1001.4L279.1 1001.9L280.6 1002.0L282.1 1002.1L283.6 1002.2L285.1 1002.3L286.6 1001.9L288.1 1002.3L289.6 1002.4L291.1 1001.9L292.7 1002.2L294.2 1002.0L295.7 1002.2L297.2 1002.1L298.7 1002.2L300.2 1002.3L301.7 1002.1L303.2 1002.3L304.7 1002.1L306.3 1002.2L307.8 1002.0L309.3 1002.3L310.8 1002.3L312.3 1002.1L313.8 1002.3L315.3 1002.4L316.8 1002.5L318.3 1001.9L319.8 1002.6L321.4 1002.7L322.9 1002.8L324.4 1002.8L325.9 1003.2L327.4 1002.6L328.9 1002.7L330.4 1002.8L331.9 1002.2L333.4 1002.6L334.9 1002.6L336.5 1003.2L338.0 1003.6L339.5 1003.8L341.0 1003.2L342.5 1003.4L344.0 1003.5L345.5 1003.6L347.0 1003.4L348.5 1003.3L350.0 1003.6L351.5 1003.7L353.1 1003.8L354.6 1003.8L356.1 1004.1L357.6 1004.0L359.1 1003.7L360.6 1003.6L362.1 1003.5L363.6 1003.9L365.1 1004.6L366.6 1004.5L368.2 1004.4L369.7 1004.8L371.2 1004.6L372.7 1004.9L374.2 1004.6L375.7 1004.6L377.2 1004.4L378.7 1005.0L380.2 1005.2L381.7 1004.5L383.3 1004.4L384.8 1004.5L386.3 1004.1L387.8 1004.2L389.3 1004.3L390.8 1004.7L392.3 1005.1L393.8 1005.1L395.3 1005.3L396.8 1004.9L398.4 1004.9L399.9 1004.5L401.4 1004.8L402.9 1005.5L404.4 1005.6L405.9 1005.9L407.4 1005.6L408.9 1005.5L410.4 1005.3L411.9 1005.4L413.5 1005.4L415.0 1005.5L416.5 1005.4L418.0 1005.4L419.5 1005.3L421.0 1005.4L422.5 1005.6L424.0 1005.8L425.5 1005.8L427.0 1005.6L428.6 1006.0L430.1 1006.1L431.6 1006.2L433.1 1006.2L434.6 1006.0L436.1 1006.0L437.6 1006.6L439.1 1006.5L440.6 1006.7L442.1 1006.6L443.7 1006.0L445.2 1006.2L446.7 1006.2L448.2 1006.3L449.7 1006.3L451.2 1006.2L452.7 1006.2L454.2 1005.9L455.7 1006.2L457.3 1006.1L458.8 1006.2L460.3 1006.2L461.8 1006.5L463.3 1006.7L464.8 1006.7L466.3 1006.8L467.8 1006.8L469.3 1006.6L470.8 1006.5L472.4 1006.4L473.9 1006.5L475.4 1006.4L476.9 1006.5L478.4 1006.2L479.9 1006.7L481.4 1006.5L482.9 1006.6L484.4 1006.8L486.0 1006.9L487.5 1007.1L489.0 1006.9L490.5 1006.7L492.0 1006.6L493.5 1006.9L495.0 1006.7L496.5 1006.4L498.0 1006.6L499.5 1006.2L501.1 1006.7L502.6 1006.0L504.1 1006.4L505.6 1006.4L507.1 1006.1L508.6 1006.5L510.1 1006.7L511.6 1006.8L513.1 1006.9L514.7 1007.1L516.2 1007.0L517.7 1006.9L519.2 1006.7L520.7 1006.7L522.2 1006.4L523.7 1006.8L525.2 1006.7L526.7 1006.6L528.2 1006.7L529.8 1006.8L531.3 1006.7L532.8 1006.4" stroke="#0000f0" stroke-width="1.3" fill="none" stroke-linejoin="round" stroke-dasharray="3 2" opacity="1.0"/>
<path d="M89.0 995.8L90.5 996.0L92.0 996.2L93.5 996.5L95.0 996.9L96.5 996.7L98.0 997.0L99.5 997.1L101.0 997.6L102.5 998.1L104.0 998.0L105.5 998.0L107.0 997.4L108.5 997.7L110.0 997.5L111.5 998.2L113.0 998.4L114.5 998.8L115.9 999.0L117.4 999.3L118.9 999.5L120.4 999.4L121.9 999.5L123.4 999.7L124.9 999.7L126.4 999.7L127.9 999.9L129.4 1000.0L130.9 1000.6L132.4 1000.5L133.9 1001.1L135.4 1001.0L136.9 1001.1L138.4 1001.0L139.9 1001.3L141.4 1001.2L142.9 1001.3L144.4 1001.3L145.9 1001.6L147.4 1002.1L148.9 1002.0L150.4 1002.1L151.9 1002.6L153.4 1002.7L154.9 1003.0L156.4 1003.1L157.9 1002.8L159.4 1002.6L160.9 1002.9L162.4 1003.2L163.9 1003.2L165.4 1003.5L166.9 1003.6L168.4 1003.5L169.9 1003.9L171.4 1004.2L172.9 1004.3L174.4 1004.4L175.9 1004.4L177.4 1004.6L179.0 1004.2L180.5 1004.1L182.0 1004.1L183.5 1003.8L185.0 1003.7L186.5 1004.0L188.0 1004.5L189.5 1004.8L191.0 1004.7L192.5 1004.7L194.0 1005.1L195.5 1005.3L197.0 1005.4L198.5 1005.6L200.0 1005.7L201.5 1005.5L203.0 1005.5L204.5 1005.1L206.0 1005.0L207.5 1005.2L209.0 1005.3L210.5 1005.4L212.1 1005.6L213.6 1005.8L215.1 1006.0L216.6 1005.6L218.1 1005.8L219.6 1005.9L221.1 1005.8L222.6 1005.4L224.1 1005.9L225.6 1005.8L227.1 1006.1L228.6 1006.4L230.1 1006.6L231.6 1006.2L233.1 1006.7L234.6 1006.6L236.1 1006.6L237.6 1006.7L239.1 1006.5L240.6 1006.9L242.2 1007.3L243.7 1007.2L245.2 1007.1L246.7 1006.9L248.2 1006.7L249.7 1006.8L251.2 1006.6L252.7 1006.6L254.2 1006.9L255.7 1007.2L257.2 1006.8L258.7 1007.1L260.2 1006.8L261.7 1007.4L263.2 1007.4L264.7 1007.5L266.2 1007.3L267.7 1007.1L269.3 1007.4L270.8 1007.4L272.3 1007.0L273.8 1006.8L275.3 1007.0L276.8 1006.9L278.3 1007.5L279.8 1007.0L281.3 1007.1L282.8 1007.3L284.3 1007.0L285.8 1007.1L287.3 1007.6L288.8 1007.3L290.3 1007.3L291.8 1007.1L293.3 1007.3L294.9 1007.3L296.4 1007.2L297.9 1007.2L299.4 1007.3L300.9 1007.3L302.4 1007.1L303.9 1007.2L305.4 1006.6L306.9 1006.5L308.4 1006.6L309.9 1006.5L311.4 1006.3L312.9 1006.7L314.4 1006.9L315.9 1007.1L317.4 1007.3L318.9 1007.5L320.5 1007.3L322.0 1007.0L323.5 1007.1L325.0 1007.5L326.5 1007.1L328.0 1007.4L329.5 1007.3L331.0 1007.1L332.5 1006.9L334.0 1007.1L335.5 1007.1L337.0 1007.1L338.5 1006.8L340.0 1007.2L341.5 1007.4L343.0 1007.5L344.5 1007.3L346.1 1007.3L347.6 1007.3L349.1 1007.4L350.6 1007.2L352.1 1007.5L353.6 1007.5L355.1 1007.1L356.6 1007.2L358.1 1007.7L359.6 1007.0L361.1 1006.8L362.6 1007.2L364.1 1007.7L365.6 1007.4L367.1 1007.3L368.6 1007.0L370.1 1007.1L371.7 1007.5L373.2 1007.6L374.7 1007.4L376.2 1007.5L377.7 1007.4L379.2 1007.1L380.7 1007.3L382.2 1007.4L383.7 1007.3L385.2 1007.6L386.7 1007.2L388.2 1007.2L389.7 1007.1L391.2 1007.2L392.7 1007.8L394.2 1007.3L395.7 1007.5L397.3 1007.3L398.8 1007.6L400.3 1007.7L401.8 1007.5L403.3 1007.5L404.8 1007.4L406.3 1007.3L407.8 1007.3L409.3 1007.3L410.8 1007.6L412.3 1007.8L413.8 1007.6L415.3 1007.2L416.8 1007.3L418.3 1007.3L419.8 1007.6L421.3 1008.0L422.9 1007.8L424.4 1007.8L425.9 1007.5L427.4 1007.5L428.9 1007.3L430.4 1007.7L431.9 1007.5L433.4 1007.4L434.9 1007.8L436.4 1007.2L437.9 1007.5L439.4 1007.5L440.9 1007.4L442.4 1007.2L443.9 1007.1L445.4 1007.1L446.9 1007.4L448.5 1006.8L450.0 1007.0L451.5 1007.1L453.0 1007.0L454.5 1007.1L456.0 1007.8L457.5 1008.1L459.0 1008.5L460.5 1008.5L462.0 1008.1L463.5 1007.5L465.0 1007.7L466.5 1007.5L468.0 1007.7L469.5 1007.9L471.0 1007.7L472.5 1008.1L474.1 1007.9L475.6 1007.7L477.1 1007.4L478.6 1007.7L480.1 1007.5L481.6 1008.0L483.1 1007.7L484.6 1007.7L486.1 1007.4L487.6 1007.0L489.1 1007.5L490.6 1007.6L492.1 1007.8L493.6 1007.3L495.1 1007.3L496.6 1007.4L498.1 1007.2L499.7 1007.2L501.2 1007.4L502.7 1008.0L504.2 1007.4L505.7 1007.3L507.2 1007.4L508.7 1007.5L510.2 1007.8L511.7 1007.7L513.2 1007.6L514.7 1007.4L516.2 1007.4L517.7 1007.2L519.2 1007.0L520.7 1007.6L522.2 1007.1L523.7 1007.4L525.3 1007.3L526.8 1007.4L528.3 1007.5L529.8 1007.4L531.3 1007.7L532.8 1007.9" stroke="#9400d8" stroke-width="1.2" fill="none" stroke-linejoin="round" stroke-dasharray="3 2" opacity="1.0"/>
<path d="M74.7 1018.7L75.9 1017.7L77.1 1016.9L78.4 1016.1L79.7 1015.4L81.1 1014.6L82.3 1013.9L83.6 1012.9L84.8 1012.1L86.1 1011.4L87.4 1010.7L88.7 1009.8L90.0 1008.9L91.3 1008.3L92.6 1007.6L93.9 1006.8L95.3 1006.1L96.6 1005.3L98.0 1004.8L99.4 1004.0L100.8 1003.6L102.2 1003.1L103.7 1002.9L105.1 1002.4L106.5 1001.9L108.0 1001.6L109.4 1001.0L110.9 1000.7L112.4 1000.1L113.8 1000.0L115.3 999.9L116.8 999.7L118.3 999.4L119.8 999.2L121.3 999.0L122.8 998.9L124.3 998.6L125.8 998.2L127.3 997.9L128.8 997.9L130.3 997.7L131.8 997.6L133.3 997.5L134.8 997.5L136.3 997.3L137.8 997.2L139.3 997.0L140.8 996.8L142.3 996.9L143.8 996.8L145.3 996.6L146.8 996.5L148.3 996.4L149.8 996.4L151.3 996.3L152.8 996.1L154.3 995.9L155.8 995.9L157.3 995.7L158.8 995.7L160.4 995.6L161.9 995.5L163.4 995.3L164.9 995.2L166.4 995.3L167.9 995.4L169.4 995.3L170.9 995.0L172.4 995.2L173.9 995.2L175.4 995.2L176.9 995.2L178.4 995.3L179.9 995.1L181.5 995.0L183.0 995.2L184.5 995.2L186.0 995.1L187.5 995.0L189.0 994.9L190.5 994.9L192.0 994.6L193.5 994.7L195.0 995.0L196.5 995.0L198.0 994.8L199.6 994.7L201.1 994.8L202.6 994.7L204.1 994.8L205.6 995.0L207.1 994.9L208.6 994.9L210.1 994.7L211.6 994.6L213.1 994.6L214.6 994.3L216.1 994.4L217.6 994.4L219.2 994.4L220.7 994.6L222.2 994.5L223.7 994.3L225.2 994.3L226.7 994.2L228.2 994.1L229.7 994.4L231.2 994.1L232.7 994.2L234.2 994.1L235.7 994.3L237.3 994.3L238.8 994.3L240.3 994.3L241.8 994.4L243.3 994.2L244.8 994.3L246.3 994.3L247.8 994.5L249.3 994.2L250.8 994.1L252.3 994.0L253.8 994.2L255.3 994.0L256.9 994.1L258.4 994.1L259.9 994.1L261.4 994.0L262.9 994.0L264.4 994.0L265.9 993.8L267.4 994.2L268.9 993.9L270.4 993.8L271.9 993.7L273.4 993.7L274.9 993.8L276.5 993.7L278.0 993.8L279.5 993.7L281.0 993.9L282.5 994.1L284.0 993.8L285.5 993.8L287.0 993.6L288.5 993.7L290.0 993.6L291.5 993.5L293.0 993.4L294.6 993.5L296.1 993.4L297.6 993.4L299.1 993.4L300.6 993.4L302.1 993.3L303.6 993.4L305.1 993.9L306.6 993.8L308.1 993.8L309.6 994.0L311.1 993.6L312.6 993.3L314.2 993.3L315.7 993.3L317.2 993.5L318.7 993.5L320.2 993.1L321.7 993.3L323.2 993.0L324.7 993.2L326.2 993.3L327.7 993.4L329.2 993.4L330.7 993.4L332.3 993.2L333.8 993.3L335.3 993.2L336.8 993.0L338.3 993.1L339.8 993.0L341.3 993.0L342.8 993.1L344.3 993.0L345.8 992.8L347.3 992.8L348.8 993.1L350.3 993.1L351.9 993.2L353.4 993.1L354.9 993.1L356.4 993.2L357.9 993.1L359.4 993.0L360.9 993.1L362.4 993.1L363.9 992.8L365.4 992.5L366.9 992.6L368.4 992.7L370.0 992.9L371.5 992.8L373.0 992.6L374.5 992.5L376.0 992.5L377.5 992.5L379.0 992.5L380.5 992.5L382.0 992.4L383.5 992.5L385.0 992.1L386.5 992.3L388.0 992.3L389.6 992.4L391.1 992.3L392.6 992.4L394.1 992.4L395.6 992.4L397.1 992.4L398.6 992.2L400.1 992.3L401.6 992.2L403.1 992.2L404.6 992.3L406.1 992.2L407.6 992.2L409.2 991.8L410.7 991.9L412.2 992.0L413.7 991.8L415.2 991.9L416.7 992.0L418.2 991.9L419.7 991.8L421.2 991.9L422.7 992.0L424.2 991.8L425.7 991.7L427.3 991.5L428.8 991.3L430.3 991.4L431.8 991.3L433.3 991.5L434.8 991.6L436.3 991.6L437.8 991.7L439.3 991.6L440.8 991.5L442.3 991.5L443.8 991.3L445.3 991.3L446.9 991.3L448.4 991.3L449.9 991.3L451.4 991.0L452.9 991.1L454.4 990.9L455.9 991.0L457.4 991.1L458.9 991.0L460.4 991.0L461.9 990.8L463.4 990.4L464.9 990.5L466.4 990.8L468.0 990.8L469.5 990.7L471.0 990.4L472.5 990.7L474.0 990.4L475.5 990.7L477.0 990.7L478.5 990.8L480.0 990.6L481.5 990.5L483.0 990.4L484.5 990.1L486.0 990.0L487.6 990.1L489.1 990.2L490.6 990.1L492.1 990.1L493.6 990.2L495.1 990.2L496.6 990.0L498.1 990.1L499.6 989.9L501.1 989.8L502.6 989.6L504.1 989.7L505.6 989.8L507.2 989.8L508.7 989.7L510.2 989.6L511.7 989.6L513.2 989.5L514.7 989.5L516.2 989.3L517.7 989.2L519.2 989.2L520.7 988.9L522.2 989.0L523.7 988.9L525.2 989.0L526.8 989.1L528.3 989.1L529.8 989.0L531.3 989.2L532.8 989.1" stroke="#00ee00" stroke-width="2.0" fill="none" stroke-linejoin="round" opacity="1.0"/>
<path d="M74.7 1018.7L76.2 1018.2L77.6 1017.8L79.1 1017.4L80.6 1017.3L82.0 1017.2L83.5 1016.8L85.0 1016.6L86.5 1016.4L88.0 1015.8L89.4 1015.7L90.9 1014.9L92.3 1014.7L93.8 1014.6L95.2 1013.8L96.7 1013.4L98.1 1012.9L99.6 1012.6L101.0 1012.0L102.5 1011.9L104.0 1011.9L105.5 1011.4L106.9 1011.1L108.4 1010.9L109.9 1010.6L111.4 1010.3L112.9 1010.1L114.4 1009.5L115.9 1009.5L117.3 1009.2L118.8 1009.2L120.3 1009.0L121.8 1008.8L123.3 1008.7L124.8 1008.4L126.3 1008.4L127.8 1007.9L129.3 1007.6L130.8 1007.1L132.2 1007.2L133.7 1006.9L135.2 1007.1L136.7 1006.9L138.2 1006.4L139.7 1006.4L141.2 1006.1L142.7 1006.1L144.2 1005.9L145.7 1005.6L147.2 1005.4L148.7 1004.9L150.2 1004.9L151.7 1004.7L153.2 1004.7L154.7 1004.4L156.2 1004.5L157.7 1004.5L159.2 1004.3L160.7 1004.3L162.2 1004.4L163.7 1004.1L165.2 1004.0L166.7 1004.1L168.2 1003.9L169.7 1003.7L171.2 1003.6L172.7 1003.4L174.2 1003.2L175.7 1003.2L177.3 1003.3L178.8 1003.5L180.3 1003.3L181.8 1003.3L183.3 1003.3L184.8 1003.1L186.3 1003.3L187.8 1003.4L189.3 1003.1L190.8 1003.2L192.3 1002.9L193.8 1003.0L195.3 1002.9L196.8 1002.6L198.3 1002.4L199.8 1002.5L201.3 1002.3L202.9 1002.2L204.4 1002.3L205.9 1002.6L207.4 1002.4L208.9 1002.4L210.4 1002.1L211.9 1002.3L213.4 1002.2L214.9 1002.3L216.4 1002.1L217.9 1002.1L219.4 1002.0L220.9 1001.9L222.4 1002.0L223.9 1001.9L225.4 1001.9L227.0 1002.1L228.5 1002.2L230.0 1002.4L231.5 1002.3L233.0 1002.5L234.5 1002.3L236.0 1002.3L237.5 1002.1L239.0 1002.3L240.5 1002.1L242.0 1002.1L243.5 1002.4L245.0 1002.3L246.5 1002.1L248.0 1002.2L249.6 1002.0L251.1 1002.0L252.6 1002.0L254.1 1002.3L255.6 1002.4L257.1 1002.3L258.6 1002.6L260.1 1002.4L261.6 1002.5L263.1 1002.6L264.6 1002.8L266.1 1002.5L267.6 1002.4L269.1 1002.4L270.6 1002.5L272.2 1002.3L273.7 1002.3L275.2 1002.5L276.7 1002.7L278.2 1002.6L279.7 1002.7L281.2 1002.5L282.7 1002.6L284.2 1002.5L285.7 1002.5L287.2 1002.5L288.7 1002.6L290.2 1002.4L291.7 1002.6L293.2 1002.3L294.8 1002.4L296.3 1002.6L297.8 1002.6L299.3 1002.4L300.8 1002.8L302.3 1002.7L303.8 1002.7L305.3 1002.7L306.8 1002.6L308.3 1002.7L309.8 1002.3L311.3 1002.4L312.8 1002.6L314.3 1002.5L315.8 1002.9L317.3 1003.1L318.9 1002.9L320.4 1003.0L321.9 1003.0L323.4 1003.1L324.9 1003.0L326.4 1003.2L327.9 1003.0L329.4 1003.2L330.9 1003.1L332.4 1003.4L333.9 1002.9L335.4 1003.0L336.9 1002.8L338.4 1003.0L339.9 1003.1L341.5 1002.9L343.0 1002.9L344.5 1002.8L346.0 1003.0L347.5 1003.1L349.0 1003.1L350.5 1003.1L352.0 1003.0L353.5 1003.2L355.0 1003.2L356.5 1003.3L358.0 1003.6L359.5 1003.3L361.0 1003.3L362.5 1003.3L364.0 1003.5L365.6 1003.5L367.1 1003.3L368.6 1003.4L370.1 1003.3L371.6 1003.6L373.1 1003.7L374.6 1003.5L376.1 1003.8L377.6 1003.4L379.1 1003.1L380.6 1002.9L382.1 1003.2L383.6 1003.3L385.1 1003.4L386.6 1003.6L388.2 1003.8L389.7 1003.8L391.2 1004.0L392.7 1004.1L394.2 1004.0L395.7 1003.9L397.2 1004.0L398.7 1004.0L400.2 1004.1L401.7 1003.8L403.2 1003.7L404.7 1004.0L406.2 1004.1L407.7 1004.0L409.2 1004.1L410.8 1004.0L412.3 1004.1L413.8 1003.8L415.3 1003.9L416.8 1003.9L418.3 1003.8L419.8 1004.1L421.3 1004.0L422.8 1004.0L424.3 1004.3L425.8 1004.3L427.3 1004.4L428.8 1004.4L430.3 1004.2L431.8 1004.1L433.3 1004.0L434.9 1003.8L436.4 1003.9L437.9 1004.1L439.4 1004.1L440.9 1003.9L442.4 1004.3L443.9 1003.9L445.4 1004.2L446.9 1004.4L448.4 1004.6L449.9 1004.3L451.4 1004.4L452.9 1004.3L454.4 1004.5L455.9 1004.5L457.5 1004.7L459.0 1004.9L460.5 1005.1L462.0 1004.9L463.5 1004.8L465.0 1004.3L466.5 1004.4L468.0 1004.2L469.5 1004.6L471.0 1004.6L472.5 1004.5L474.0 1004.4L475.5 1004.5L477.0 1004.6L478.5 1004.5L480.0 1004.5L481.6 1004.5L483.1 1004.4L484.6 1004.3L486.1 1004.4L487.6 1004.7L489.1 1004.7L490.6 1004.5L492.1 1004.8L493.6 1004.7L495.1 1004.5L496.6 1004.7L498.1 1004.5L499.6 1004.5L501.1 1004.6L502.6 1004.9L504.2 1004.8L505.7 1004.8L507.2 1004.7L508.7 1004.5L510.2 1004.6L511.7 1004.7L513.2 1004.9L514.7 1004.7L516.2 1004.9L517.7 1004.8L519.2 1004.5L520.7 1005.0L522.2 1005.2L523.7 1005.3L525.2 1005.3L526.8 1005.3L528.3 1005.1L529.8 1005.4L531.3 1005.3L532.8 1005.0" stroke="#0000f0" stroke-width="1.8" fill="none" stroke-linejoin="round" opacity="1.0"/>
<path d="M74.7 1018.7L74.8 1017.2L75.0 1015.7L75.2 1014.2L75.5 1012.8L75.8 1011.3L76.2 1009.6L76.5 1008.4L77.0 1006.7L77.4 1005.6L77.8 1004.0L78.3 1002.5L78.7 1001.2L79.1 999.8L79.5 998.3L80.0 997.0L80.6 995.5L81.1 994.2L81.9 992.8L83.3 992.7L84.8 992.9L86.3 993.2L87.8 993.7L89.2 994.0L90.7 994.3L92.2 994.2L93.6 994.4L95.1 994.5L96.6 994.9L98.1 995.2L99.6 996.0L101.0 996.1L102.5 996.5L104.0 996.9L105.5 997.1L107.0 997.2L108.5 997.7L110.0 997.7L111.5 997.8L113.0 997.7L114.5 997.7L116.0 997.7L117.5 998.0L119.0 998.2L120.5 998.2L122.0 998.7L123.5 998.8L125.0 999.1L126.5 999.3L128.0 999.3L129.5 999.7L131.0 999.8L132.5 999.8L133.9 1000.2L135.4 1000.4L136.9 1000.5L138.4 1000.7L139.9 1000.6L141.4 1000.9L142.9 1001.1L144.4 1001.2L145.9 1001.3L147.4 1001.5L148.9 1001.6L150.4 1001.7L151.9 1002.1L153.4 1002.5L154.9 1002.5L156.4 1002.4L157.9 1002.5L159.4 1002.6L160.9 1002.4L162.4 1002.7L163.9 1002.7L165.4 1003.2L166.9 1003.3L168.4 1003.4L169.9 1003.5L171.4 1003.9L172.9 1003.9L174.4 1003.9L175.9 1004.1L177.4 1003.9L178.9 1003.9L180.4 1004.3L181.9 1004.6L183.4 1004.7L185.0 1004.8L186.5 1005.1L188.0 1005.0L189.5 1005.4L191.0 1005.4L192.5 1005.1L194.0 1005.2L195.5 1005.1L197.0 1005.2L198.5 1005.5L200.0 1005.3L201.5 1005.4L203.0 1005.4L204.5 1005.5L206.0 1005.7L207.5 1005.9L209.0 1005.7L210.5 1005.8L212.0 1005.9L213.5 1005.7L215.0 1005.8L216.5 1005.6L218.1 1006.1L219.6 1006.3L221.1 1006.4L222.6 1006.7L224.1 1006.6L225.6 1006.6L227.1 1006.5L228.6 1006.4L230.1 1006.6L231.6 1006.7L233.1 1006.7L234.6 1006.8L236.1 1007.0L237.6 1007.3L239.1 1007.1L240.6 1007.2L242.1 1007.2L243.6 1007.3L245.1 1007.3L246.6 1007.3L248.1 1007.4L249.6 1007.5L251.1 1007.9L252.7 1008.0L254.2 1008.1L255.7 1008.1L257.2 1008.1L258.7 1008.5L260.2 1008.3L261.7 1008.4L263.2 1008.6L264.7 1008.2L266.2 1008.4L267.7 1008.6L269.2 1008.7L270.7 1008.5L272.2 1008.6L273.7 1008.5L275.2 1008.4L276.7 1008.5L278.2 1008.4L279.7 1008.5L281.3 1008.5L282.8 1008.7L284.3 1008.4L285.8 1008.7L287.3 1008.7L288.8 1008.8L290.3 1009.0L291.8 1009.3L293.3 1009.3L294.8 1009.1L296.3 1009.4L297.8 1009.4L299.3 1009.2L300.8 1009.0L302.3 1009.0L303.8 1008.9L305.3 1009.4L306.9 1009.1L308.4 1009.0L309.9 1009.0L311.4 1008.9L312.9 1008.9L314.4 1009.2L315.9 1009.0L317.4 1009.1L318.9 1009.1L320.4 1009.3L321.9 1009.1L323.4 1009.1L324.9 1009.3L326.4 1009.1L327.9 1009.3L329.4 1009.5L331.0 1009.6L332.5 1009.6L334.0 1009.7L335.5 1009.4L337.0 1009.4L338.5 1009.2L340.0 1009.3L341.5 1009.4L343.0 1009.2L344.5 1009.6L346.0 1009.5L347.5 1009.5L349.0 1009.1L350.5 1009.2L352.0 1009.2L353.5 1009.0L355.1 1009.4L356.6 1009.3L358.1 1009.1L359.6 1009.3L361.1 1009.6L362.6 1009.5L364.1 1009.4L365.6 1009.4L367.1 1009.5L368.6 1009.3L370.1 1009.4L371.6 1009.3L373.1 1009.3L374.6 1009.5L376.1 1009.3L377.6 1009.8L379.1 1009.8L380.7 1009.8L382.2 1009.5L383.7 1009.7L385.2 1009.6L386.7 1009.3L388.2 1009.5L389.7 1009.5L391.2 1009.5L392.7 1009.4L394.2 1009.3L395.7 1009.7L397.2 1009.7L398.7 1009.7L400.2 1010.0L401.7 1010.0L403.2 1009.7L404.8 1009.5L406.3 1009.7L407.8 1009.9L409.3 1009.6L410.8 1009.7L412.3 1009.7L413.8 1009.7L415.3 1009.7L416.8 1009.8L418.3 1009.9L419.8 1009.8L421.3 1010.0L422.8 1010.0L424.3 1009.8L425.8 1009.8L427.3 1010.0L428.9 1010.0L430.4 1009.8L431.9 1009.6L433.4 1009.8L434.9 1009.9L436.4 1009.9L437.9 1009.9L439.4 1009.6L440.9 1009.9L442.4 1009.9L443.9 1009.8L445.4 1010.1L446.9 1009.7L448.4 1009.7L449.9 1009.7L451.4 1009.9L453.0 1010.0L454.5 1009.9L456.0 1009.9L457.5 1009.9L459.0 1009.8L460.5 1009.9L462.0 1010.0L463.5 1010.0L465.0 1010.0L466.5 1009.9L468.0 1010.2L469.5 1010.3L471.0 1010.5L472.5 1010.1L474.0 1009.9L475.5 1009.6L477.1 1009.7L478.6 1009.8L480.1 1009.9L481.6 1009.7L483.1 1009.8L484.6 1010.0L486.1 1009.8L487.6 1009.8L489.1 1009.8L490.6 1009.7L492.1 1009.8L493.6 1010.0L495.1 1010.2L496.6 1010.3L498.1 1010.2L499.6 1010.3L501.2 1010.3L502.7 1010.3L504.2 1010.0L505.7 1010.0L507.2 1010.1L508.7 1009.8L510.2 1010.0L511.7 1010.1L513.2 1010.1L514.7 1010.2L516.2 1010.2L517.7 1010.3L519.2 1010.5L520.7 1010.4L522.2 1010.6L523.7 1010.2L525.2 1010.1L526.8 1010.0L528.3 1009.8L529.8 1009.6L531.3 1009.6L532.8 1009.9" stroke="#9400d8" stroke-width="1.8" fill="none" stroke-linejoin="round" opacity="1.0"/>
<path d="M77.7 940.7L77.7 942.2L77.8 943.7L77.8 945.3L77.8 946.8L77.9 948.3L77.9 949.8L77.9 951.3L78.0 952.8L78.0 954.3L78.0 955.8L78.1 957.3L78.1 958.8L78.2 960.3L78.2 961.8L78.3 963.3L78.4 964.8L78.4 966.3L78.5 967.8L78.6 969.3L78.6 970.8L78.7 972.3L78.8 973.8L79.0 975.3L79.2 976.8L79.4 978.3L79.8 979.8L80.2 981.2L80.7 982.6L81.3 984.0L81.8 985.4L82.4 986.8L83.1 988.1L83.8 989.5L84.6 990.8L85.4 992.0L86.3 993.2L87.2 994.4L88.1 995.6L89.1 996.7L90.2 997.8L91.3 998.8L92.5 999.8L93.7 1000.7L94.9 1001.5L96.2 1002.3L97.6 1003.0L98.9 1003.6L100.3 1004.2L101.7 1004.7L103.1 1005.2L104.6 1005.7L106.0 1006.1L107.4 1006.5L108.9 1006.9L110.4 1007.3L111.8 1007.6L113.3 1007.9L114.8 1008.2L116.2 1008.5L117.7 1008.8L119.2 1009.1L120.7 1009.4L122.2 1009.6L123.7 1009.8L125.1 1010.0L126.6 1010.2L128.1 1010.4L129.6 1010.6L131.1 1010.7L132.6 1010.8L134.1 1011.0L135.6 1011.1L137.1 1011.2L138.6 1011.3L140.1 1011.4L141.6 1011.5L143.1 1011.6L144.6 1011.7L146.1 1011.8L147.6 1011.8L149.1 1011.9L150.6 1012.0L152.1 1012.1L153.7 1012.2L155.2 1012.2L156.7 1012.3L158.2 1012.4L159.7 1012.5L161.2 1012.6L162.7 1012.6L164.2 1012.7L165.7 1012.8L167.2 1012.9L168.7 1012.9L170.2 1013.0L171.7 1013.1L173.2 1013.2L174.7 1013.2L176.2 1013.3L177.7 1013.4L179.2 1013.4L180.7 1013.5L182.2 1013.5L183.7 1013.6L185.2 1013.7L186.7 1013.7L188.2 1013.8L189.7 1013.8L191.2 1013.9L192.7 1014.0L194.2 1014.0L195.7 1014.1L197.2 1014.1L198.7 1014.2L200.3 1014.2L201.8 1014.3L203.3 1014.4L204.8 1014.4L206.3 1014.5L207.8 1014.5L209.3 1014.6L210.8 1014.6L212.3 1014.7L213.8 1014.7L215.3 1014.8L216.8 1014.8L218.3 1014.9L219.8 1014.9L221.3 1015.0L222.8 1015.0L224.3 1015.0L225.8 1015.1L227.3 1015.1L228.8 1015.1L230.3 1015.2L231.8 1015.2L233.3 1015.2L234.8 1015.3L236.4 1015.3L237.9 1015.4L239.4 1015.4L240.9 1015.4L242.4 1015.4L243.9 1015.5L245.4 1015.5L246.9 1015.5L248.4 1015.6L249.9 1015.6L251.4 1015.6L252.9 1015.7L254.4 1015.7L255.9 1015.7L257.4 1015.7L258.9 1015.8L260.4 1015.8L261.9 1015.8L263.4 1015.8L264.9 1015.9L266.4 1015.9L267.9 1015.9L269.5 1015.9L271.0 1016.0L272.5 1016.0L274.0 1016.0L275.5 1016.0L277.0 1016.1L278.5 1016.1L280.0 1016.1L281.5 1016.1L283.0 1016.1L284.5 1016.2L286.0 1016.2L287.5 1016.2L289.0 1016.2L290.5 1016.2L292.0 1016.3L293.5 1016.3L295.0 1016.3L296.5 1016.3L298.0 1016.3L299.5 1016.4L301.0 1016.4L302.6 1016.4L304.1 1016.4L305.6 1016.4L307.1 1016.4L308.6 1016.5L310.1 1016.5L311.6 1016.5L313.1 1016.5L314.6 1016.5L316.1 1016.5L317.6 1016.6L319.1 1016.6L320.6 1016.6L322.1 1016.6L323.6 1016.6L325.1 1016.6L326.6 1016.6L328.1 1016.7L329.6 1016.7L331.1 1016.7L332.6 1016.7L334.2 1016.7L335.7 1016.7L337.2 1016.7L338.7 1016.8L340.2 1016.8L341.7 1016.8L343.2 1016.8L344.7 1016.8L346.2 1016.8L347.7 1016.8L349.2 1016.9L350.7 1016.9L352.2 1016.9L353.7 1016.9L355.2 1016.9L356.7 1016.9L358.2 1016.9L359.7 1016.9L361.2 1017.0L362.7 1017.0L364.2 1017.0L365.8 1017.0L367.3 1017.0L368.8 1017.0L370.3 1017.0L371.8 1017.0L373.3 1017.0L374.8 1017.1L376.3 1017.1L377.8 1017.1L379.3 1017.1L380.8 1017.1L382.3 1017.1L383.8 1017.1L385.3 1017.1L386.8 1017.1L388.3 1017.1L389.8 1017.2L391.3 1017.2L392.8 1017.2L394.3 1017.2L395.8 1017.2L397.4 1017.2L398.9 1017.2L400.4 1017.2L401.9 1017.2L403.4 1017.2L404.9 1017.2L406.4 1017.3L407.9 1017.3L409.4 1017.3L410.9 1017.3L412.4 1017.3L413.9 1017.3L415.4 1017.3L416.9 1017.3L418.4 1017.3L419.9 1017.3L421.4 1017.3L422.9 1017.3L424.4 1017.4L425.9 1017.4L427.4 1017.4L429.0 1017.4L430.5 1017.4L432.0 1017.4L433.5 1017.4L435.0 1017.4L436.5 1017.4L438.0 1017.4L439.5 1017.4L441.0 1017.4L442.5 1017.4L444.0 1017.5L445.5 1017.5L447.0 1017.5L448.5 1017.5L450.0 1017.5L451.5 1017.5L453.0 1017.5L454.5 1017.5L456.0 1017.5L457.5 1017.5L459.0 1017.5L460.6 1017.5L462.1 1017.5L463.6 1017.5L465.1 1017.6L466.6 1017.6L468.1 1017.6L469.6 1017.6L471.1 1017.6L472.6 1017.6L474.1 1017.6L475.6 1017.6L477.1 1017.6L478.6 1017.6L480.1 1017.6L481.6 1017.6L483.1 1017.6L484.6 1017.6L486.1 1017.6L487.6 1017.6L489.1 1017.6L490.6 1017.7L492.2 1017.7L493.7 1017.7L495.2 1017.7L496.7 1017.7L498.2 1017.7L499.7 1017.7L501.2 1017.7L502.7 1017.7L504.2 1017.7L505.7 1017.7L507.2 1017.7L508.7 1017.7L510.2 1017.7L511.7 1017.7L513.2 1017.7L514.7 1017.7L516.2 1017.7L517.7 1017.7L519.2 1017.7L520.7 1017.8L522.2 1017.8L523.8 1017.8L525.3 1017.8L526.8 1017.8L528.3 1017.8L529.8 1017.8L531.3 1017.8L532.8 1017.8" stroke="#000" stroke-width="1.6" fill="none" stroke-linejoin="round" opacity="1.0"/>
<path d="M74.7 993.0L76.2 993.3L77.7 993.5L79.1 994.1L80.4 994.9L81.7 995.4L83.0 996.4L84.1 997.3L85.1 998.4L86.1 999.6L87.1 1000.8L88.2 1001.8L89.4 1002.9L90.6 1003.9L91.9 1004.6L93.2 1005.3L94.5 1005.9L95.8 1006.6L97.2 1007.0L98.6 1007.9L100.0 1008.1L101.5 1008.7L103.0 1009.0L104.5 1009.3L106.0 1009.6L107.5 1009.8L109.0 1010.1L110.5 1010.0L112.0 1010.4L113.5 1010.2L115.0 1010.7L116.5 1010.6L118.0 1010.8L119.5 1011.1L121.0 1010.8L122.5 1011.1L124.0 1011.3L125.5 1011.4L127.0 1011.6L128.5 1011.7L130.0 1011.9L131.5 1012.0L133.0 1012.2L134.5 1012.4L136.0 1012.6L137.5 1012.6L139.0 1012.7L140.5 1012.9L142.0 1013.1L143.5 1013.1L145.0 1013.3L146.5 1013.6L148.0 1013.5L149.5 1013.5L151.1 1013.7L152.6 1014.0L154.1 1014.1L155.6 1014.2L157.1 1014.3L158.6 1014.0L160.1 1014.3L161.6 1014.1L163.1 1014.1L164.6 1014.6L166.1 1014.4L167.6 1014.6L169.2 1014.8L170.7 1014.8L172.2 1014.9L173.7 1015.1L175.2 1015.0L176.7 1014.9L178.2 1015.0L179.7 1015.1L181.2 1015.1L182.7 1014.8L184.2 1015.3L185.8 1015.2L187.3 1015.2L188.8 1015.1L190.3 1015.1L191.8 1015.2L193.3 1015.0L194.8 1015.4L196.3 1015.4L197.8 1015.3L199.3 1015.2L200.9 1015.5L202.4 1015.5L203.9 1015.6L205.4 1015.5L206.9 1015.9L208.4 1015.6L209.9 1015.9L211.4 1015.5L212.9 1015.8L214.4 1015.9L216.0 1015.7L217.5 1015.9L219.0 1015.8L220.5 1015.6L222.0 1015.6L223.5 1015.6L225.0 1015.9L226.5 1016.1L228.0 1016.3L229.5 1016.2L231.1 1016.1L232.6 1016.3L234.1 1015.9L235.6 1015.9L237.1 1015.8L238.6 1015.8L240.1 1015.8L241.6 1015.8L243.1 1015.8L244.7 1015.9L246.2 1015.9L247.7 1015.9L249.2 1015.7L250.7 1015.9L252.2 1016.2L253.7 1016.1L255.2 1016.3L256.7 1016.2L258.2 1016.0L259.8 1015.9L261.3 1015.9L262.8 1016.0L264.3 1016.2L265.8 1016.2L267.3 1016.3L268.8 1016.3L270.3 1015.8L271.8 1015.6L273.3 1015.7L274.9 1015.7L276.4 1016.0L277.9 1016.0L279.4 1016.3L280.9 1015.9L282.4 1016.1L283.9 1016.2L285.4 1016.3L286.9 1016.4L288.4 1016.8L290.0 1016.5L291.5 1016.4L293.0 1016.4L294.5 1016.4L296.0 1016.7L297.5 1016.4L299.0 1016.5L300.5 1016.5L302.0 1016.5L303.5 1016.6L305.1 1016.4L306.6 1016.2L308.1 1016.4L309.6 1016.2L311.1 1016.3L312.6 1016.3L314.1 1016.5L315.6 1016.4L317.1 1016.3L318.7 1016.5L320.2 1016.7L321.7 1016.6L323.2 1016.7L324.7 1016.7L326.2 1016.7L327.7 1016.6L329.2 1016.8L330.7 1016.7L332.2 1016.5L333.8 1016.8L335.3 1016.7L336.8 1016.7L338.3 1016.7L339.8 1016.7L341.3 1016.3L342.8 1016.5L344.3 1016.5L345.8 1016.4L347.3 1016.3L348.9 1016.3L350.4 1016.6L351.9 1016.8L353.4 1016.5L354.9 1016.7L356.4 1016.8L357.9 1016.8L359.4 1016.7L360.9 1016.7L362.4 1016.6L364.0 1016.3L365.5 1016.5L367.0 1016.5L368.5 1016.6L370.0 1016.8L371.5 1016.8L373.0 1017.0L374.5 1017.0L376.0 1017.0L377.5 1017.0L379.1 1016.7L380.6 1016.7L382.1 1016.8L383.6 1016.9L385.1 1016.9L386.6 1016.7L388.1 1016.7L389.6 1016.7" stroke="#ff0000" stroke-width="2.2" fill="none" stroke-linejoin="round" opacity="1.0"/>
<path d="M74.7 1018.7L76.1 1018.5L77.6 1017.8L79.0 1017.8L80.4 1017.1L81.9 1016.5L83.2 1016.1L84.4 1015.3L85.5 1014.6L86.5 1013.9L87.5 1012.2L88.4 1010.5L89.3 1007.9L89.9 1006.4L90.4 1006.2L90.9 1004.8L91.3 1004.0L91.7 1002.4L92.1 1000.4L92.5 1000.0L92.8 998.5L93.2 996.9L93.6 995.0L94.0 993.9L94.4 992.4L94.8 991.2L95.2 989.2L95.7 988.0L96.3 985.6L96.8 984.6L97.4 983.3L98.0 981.6L98.6 980.3L99.2 979.8L99.8 978.3L100.4 976.5L101.1 975.0L101.7 973.0L102.4 971.7L103.1 969.8L103.7 968.7L104.4 967.9L105.1 966.4L105.8 965.8L106.5 964.0L107.2 963.0L107.8 961.3L108.5 960.6L109.1 959.4L109.8 957.9L110.4 956.3L111.1 955.5L111.8 954.1L112.4 952.0L113.1 951.8L113.8 949.7L114.6 949.0L115.4 948.2L116.2 947.2L117.0 945.5L118.0 944.2L119.0 943.0L120.0 941.4L121.1 940.3L122.2 939.7L123.3 938.8L124.5 937.3L125.6 936.0L126.8 934.6L127.9 933.2L129.1 931.9L130.2 930.4L131.3 929.9L132.5 928.7L133.6 927.9L134.7 927.4L135.9 926.8L137.0 926.2L138.1 924.4L139.2 923.1L140.3 922.1L141.4 920.5L142.4 920.1L143.4 919.2L144.4 918.5L145.5 917.7L146.5 917.3L147.5 916.3L148.5 914.8L149.6 913.3L150.6 911.6L151.7 911.4L152.8 909.8L153.8 908.6L154.9 908.3L156.0 907.2L157.0 905.6L158.1 905.0L159.3 903.7L160.4 903.2L161.6 901.3L162.8 901.0L164.1 900.2L165.3 899.7L166.6 897.8L167.9 896.1L169.2 895.9L170.5 895.7L171.8 895.2L173.1 894.8L174.4 893.7L175.7 892.7L177.0 892.5L178.3 891.1L179.6 890.1L181.0 889.5L182.3 889.6L183.7 888.5L185.1 888.1L186.5 887.8L187.9 887.1L189.3 886.2L190.7 885.7L192.2 885.8L193.6 885.7L195.0 885.1L196.5 884.8L198.0 884.5L199.4 883.0L200.9 882.8L202.3 882.8L203.8 882.5L205.3 882.3L206.7 882.5L208.2 881.6L209.7 881.4L211.2 880.4L212.7 880.6L214.2 881.5L215.7 881.0L217.2 881.6L218.7 882.2L220.2 882.1L221.7 882.9L223.1 883.0L224.6 883.6L226.1 883.5L227.5 883.7L229.0 884.1L230.5 884.3L231.9 884.6L233.4 884.5L234.8 884.9L236.3 885.5L237.7 886.5L239.2 886.3L240.6 887.4L242.1 887.0L243.6 887.8L245.1 888.8L246.6 888.7L248.1 888.2L249.6 888.3L251.1 888.2L252.6 888.9L254.1 889.1L255.6 888.9L257.1 889.5L258.6 889.4L260.1 889.7L261.6 889.7L263.1 889.5L264.6 890.2L266.1 890.7L267.6 891.0L269.1 891.3L270.6 890.6L272.1 889.8L273.6 890.1L275.1 890.6L276.6 890.8L278.1 891.2L279.6 891.0L281.1 890.2L282.7 889.9L284.2 889.4L285.7 890.1L287.2 889.7L288.7 889.2L290.2 889.0L291.7 889.3L293.2 890.1L294.7 890.1L296.2 889.3L297.7 889.6L299.2 889.4L300.7 889.3L302.2 889.2L303.7 888.9L305.2 889.2L306.7 888.5L308.2 887.5L309.7 887.8L311.2 887.8L312.7 888.4L314.2 888.0L315.7 886.8L317.2 886.8L318.7 886.8L320.2 886.5L321.7 886.4L323.1 887.1L324.6 886.9L326.1 886.1L327.6 884.6L329.1 885.0L330.6 884.6L332.1 884.6L333.5 884.9L335.0 884.4L336.5 884.4L338.0 883.5L339.5 882.9L341.0 883.2L342.5 883.2L343.9 882.8L345.4 883.2L346.9 882.8L348.3 881.8L349.8 881.6L351.3 881.4L352.7 880.7L354.2 881.2L355.7 881.4L357.2 880.8L358.8 881.2L360.3 881.8L361.8 880.8L363.3 880.3L364.8 880.2L366.3 879.9L367.8 879.9L369.3 880.5L370.8 880.1L372.3 880.3L373.8 880.7L375.3 880.8L376.8 881.3L378.3 881.2L379.8 880.9L381.3 880.8L382.9 881.5L384.4 881.7L385.9 882.0L387.4 882.1L388.9 881.9L390.4 881.1L391.9 881.3L393.4 881.7L394.9 881.9L396.4 882.2L397.9 881.6L399.4 882.0L400.9 882.4L402.4 882.9L403.9 883.1L405.4 882.5L406.9 883.0L408.4 883.0L409.9 883.7L411.4 883.7L412.9 883.6L414.4 884.0L415.8 884.8L417.3 885.3L418.8 884.9L420.3 885.1L421.8 885.4L423.3 885.7L424.8 886.2L426.2 886.1L427.7 886.8L429.1 886.7L430.5 887.8L432.0 888.6L433.4 888.0L434.8 889.0L436.1 889.9L437.5 889.9L438.9 889.7L440.3 891.4L441.7 891.1L443.2 892.9L444.6 892.7L446.0 892.9L447.5 893.3L448.9 893.6L450.4 894.3L451.9 894.7L453.3 894.8L454.8 895.5L456.3 895.5L457.8 895.6L459.3 896.0L460.7 896.3L462.2 896.7L463.7 897.2L465.2 897.4L466.7 897.6L468.2 898.6L469.7 898.6L471.2 899.0L472.7 898.8L474.2 897.5L475.7 897.5L477.2 898.2L478.7 897.6L480.2 898.7L481.7 898.1L483.2 898.7L484.8 898.2L486.3 898.3L487.8 898.3L489.3 897.8L490.8 898.0L492.3 897.5L493.8 897.3L495.3 897.1L496.8 897.8L498.3 897.9L499.8 898.0L501.3 897.9L502.8 898.6L504.3 898.5L505.8 898.1L507.3 898.0L508.8 897.8L510.4 897.2L511.9 897.2L513.4 897.0L514.9 896.9L516.4 896.6L517.9 896.4L519.4 896.6L520.9 897.0L522.3 897.3L523.8 896.3L525.3 895.8L526.8 895.6L528.3 895.0L529.8 894.9L531.3 895.0L532.8 894.3" stroke="#00ee00" stroke-width="1.4" fill="none" stroke-linejoin="round" stroke-dasharray="2 1.5" opacity="1.0"/>
<path d="M74.7 1018.7L76.2 1018.4L77.6 1018.1L79.1 1018.0L80.6 1018.1L82.0 1016.8L83.5 1017.0L84.8 1016.2L86.0 1014.8L87.0 1013.7L88.0 1013.1L89.0 1012.2L89.9 1011.1L90.7 1009.2L91.3 1008.0L91.7 1005.8L92.1 1004.2L92.5 1002.7L92.9 1001.5L93.2 1000.4L93.5 998.9L93.9 996.7L94.2 995.8L94.6 993.9L95.0 992.2L95.4 990.8L95.9 990.6L96.5 988.9L97.0 987.4L97.6 986.2L98.3 985.8L98.9 983.4L99.6 982.7L100.3 981.6L101.0 979.2L101.7 979.5L102.5 977.5L103.2 975.6L104.0 974.2L104.7 973.0L105.5 971.5L106.2 970.1L107.0 968.3L107.7 967.9L108.4 967.1L109.1 966.2L109.8 964.4L110.6 962.9L111.3 961.2L112.0 959.2L112.7 958.2L113.5 957.0L114.3 955.9L115.1 954.7L115.9 952.5L116.8 951.6L117.8 950.7L118.8 948.6L119.8 947.8L120.9 947.9L122.0 945.9L123.1 945.2L124.3 944.7L125.4 943.5L126.6 942.6L127.7 941.8L128.8 940.8L130.0 939.7L131.1 939.1L132.2 938.8L133.4 937.5L134.5 937.1L135.7 935.7L136.8 934.5L137.9 933.1L139.0 931.4L140.1 930.3L141.1 929.2L142.2 927.9L143.2 927.7L144.2 926.6L145.2 925.3L146.3 923.9L147.3 922.1L148.3 922.6L149.4 920.8L150.4 918.8L151.5 918.7L152.6 917.3L153.7 917.0L154.8 915.9L155.9 915.2L157.0 913.5L158.1 912.2L159.2 910.9L160.4 910.2L161.6 908.1L162.9 907.9L164.1 906.8L165.4 905.6L166.7 905.3L168.0 904.5L169.3 903.8L170.6 903.2L172.0 901.9L173.4 901.8L174.8 901.4L176.2 901.1L177.6 901.3L179.0 900.5L180.4 900.4L181.9 900.7L183.4 899.6L184.9 899.4L186.4 899.3L187.9 899.3L189.4 898.7L190.9 898.9L192.4 898.5L193.9 898.9L195.4 898.9L196.9 898.7L198.4 899.0L199.9 899.4L201.4 899.0L202.9 898.6L204.4 899.2L205.9 899.3L207.4 899.1L208.9 900.2L210.3 900.3L211.8 900.7L213.3 900.9L214.8 901.5L216.3 901.2L217.8 901.7L219.3 902.2L220.8 902.8L222.2 903.2L223.7 902.7L225.2 903.6L226.7 903.4L228.1 903.9L229.6 904.2L231.0 904.2L232.4 905.2L233.7 905.8L235.0 906.7L236.3 908.0L237.6 908.3L238.9 909.2L240.2 911.3L241.5 910.8L242.9 911.7L244.2 912.0L245.7 911.8L247.1 912.9L248.5 913.3L250.0 913.1L251.4 913.4L252.9 913.9L254.3 914.0L255.8 915.4L257.3 915.4L258.7 915.8L260.2 916.5L261.7 917.2L263.2 917.2L264.6 918.4L266.1 919.0L267.6 918.4L269.1 918.3L270.5 918.4L272.0 918.6L273.5 919.0L274.9 920.3L276.4 920.8L277.9 920.6L279.4 920.7L280.9 920.5L282.4 920.3L283.9 919.9L285.4 919.3L286.9 919.9L288.4 919.2L289.9 919.3L291.5 920.1L293.0 919.3L294.5 919.6L296.0 918.8L297.5 918.8L299.0 919.3L300.5 919.2L302.0 919.0L303.5 919.2L305.0 919.9L306.5 919.2L308.0 919.3L309.5 918.6L311.0 918.0L312.5 917.8L314.0 918.1L315.5 917.7L317.0 917.0L318.5 917.2L320.0 917.0L321.5 917.1L322.9 917.7L324.4 917.8L325.9 918.0L327.4 917.3L328.9 916.8L330.4 916.5L331.9 916.5L333.4 915.9L334.9 916.0L336.4 915.7L337.9 915.5L339.3 915.3L340.8 915.6L342.3 914.1L343.8 913.9L345.3 913.5L346.8 913.2L348.3 913.0L349.8 913.6L351.3 912.8L352.8 913.4L354.3 912.8L355.8 911.8L357.3 911.5L358.8 911.4L360.3 911.3L361.8 912.4L363.3 912.3L364.8 912.3L366.3 911.6L367.8 912.1L369.3 911.9L370.8 913.2L372.3 912.5L373.8 912.6L375.3 912.7L376.8 912.4L378.3 912.6L379.8 912.9L381.3 913.7L382.8 913.7L384.3 914.5L385.8 915.2L387.3 915.2L388.8 915.0L390.2 915.1L391.7 915.5L393.2 915.6L394.7 916.7L396.2 916.6L397.7 916.9L399.2 917.0L400.7 917.9L402.1 917.7L403.6 917.5L405.1 917.5L406.6 918.8L408.0 918.3L409.5 918.8L411.0 920.0L412.5 920.2L413.9 920.0L415.4 920.7L416.9 920.0L418.3 920.7L419.8 920.8L421.3 922.3L422.8 922.1L424.2 923.1L425.7 922.5L427.2 923.0L428.6 923.2L430.1 923.9L431.5 924.6L433.0 925.3L434.4 924.8L435.9 924.7L437.3 926.3L438.8 926.9L440.2 926.7L441.7 927.4L443.1 927.7L444.6 927.7L446.0 927.0L447.5 928.1L449.0 928.3L450.4 929.5L451.9 929.7L453.4 929.7L454.9 930.5L456.4 931.0L457.9 930.4L459.4 930.5L460.9 930.8L462.4 931.0L463.9 930.8L465.4 930.0L466.9 929.7L468.4 930.0L469.9 930.2L471.4 930.1L472.9 931.0L474.4 932.2L475.9 932.0L477.5 932.1L479.0 932.0L480.5 932.3L482.0 932.2L483.5 932.3L485.0 932.1L486.5 932.1L488.0 931.6L489.5 931.1L491.0 931.7L492.5 931.2L494.0 932.6L495.5 932.6L497.1 932.9L498.6 933.1L500.1 932.3L501.6 932.0L503.1 931.9L504.6 932.6L506.1 932.9L507.6 932.5L509.1 932.3L510.6 931.9L512.1 930.5L513.5 929.1L515.0 929.2L516.5 929.4L518.0 929.8L519.5 929.2L521.0 929.4L522.5 928.2L523.9 928.3L525.4 926.9L526.9 927.3L528.4 926.8L529.8 927.3L531.3 927.5L532.8 927.3" stroke="#0000f0" stroke-width="1.4" fill="none" stroke-linejoin="round" stroke-dasharray="2 1.5" opacity="1.0"/>
<path d="M74.7 1018.7L76.0 1018.0L77.4 1017.3L78.8 1016.3L80.1 1016.1L81.4 1014.9L82.4 1014.8L83.3 1013.6L84.1 1012.2L84.9 1010.6L85.7 1008.8L86.4 1007.0L87.2 1005.8L87.8 1005.3L88.4 1003.6L88.9 1002.4L89.4 1000.7L89.9 999.1L90.4 997.7L90.9 996.4L91.3 994.9L91.8 993.5L92.2 992.0L92.7 991.0L93.2 989.3L93.7 988.5L94.2 987.4L94.7 985.2L95.3 983.8L95.9 983.1L96.5 980.5L97.2 979.0L97.9 978.1L98.5 977.6L99.2 976.4L100.0 974.0L100.7 972.9L101.4 971.0L102.2 969.3L103.0 967.7L103.7 967.6L104.5 966.3L105.3 965.7L106.0 964.4L106.8 963.4L107.6 961.6L108.3 959.4L109.1 958.5L109.8 957.7L110.5 955.9L111.3 955.0L112.1 953.7L112.8 951.6L113.6 950.2L114.4 948.7L115.3 948.0L116.1 946.5L117.1 945.7L118.0 944.2L119.0 943.3L120.1 942.2L121.1 941.7L122.2 940.6L123.4 939.5L124.5 939.4L125.7 938.4L126.8 937.8L128.0 936.0L129.1 934.7L130.3 933.2L131.5 931.5L132.7 931.4L133.9 931.1L135.2 930.0L136.4 928.8L137.6 929.0L138.8 927.7L139.9 926.8L141.1 925.8L142.2 924.8L143.3 923.9L144.4 922.2L145.4 921.8L146.5 920.9L147.6 920.5L148.7 918.9L149.8 918.7L150.9 917.3L152.0 916.4L153.1 914.3L154.2 913.3L155.3 911.8L156.4 910.3L157.6 910.0L158.7 909.3L159.9 908.4L161.2 907.5L162.5 906.5L163.8 906.1L165.2 905.8L166.5 904.9L167.9 904.1L169.3 904.1L170.7 903.0L172.1 902.3L173.4 901.5L174.8 900.7L176.2 900.3L177.5 899.3L178.9 898.9L180.3 898.2L181.6 898.0L183.0 898.1L184.4 898.2L185.8 896.9L187.2 896.6L188.5 895.5L189.9 894.9L191.3 893.7L192.7 892.9L194.1 892.6L195.5 891.8L196.9 890.8L198.3 890.3L199.6 890.3L201.0 889.1L202.4 889.0L203.8 888.0L205.1 887.9L206.5 887.6L207.9 886.7L209.2 885.6L210.6 884.8L212.0 884.0L213.4 883.5L214.7 883.2L216.0 882.6L217.3 881.9L218.7 881.0L220.1 880.9L221.6 880.8L223.1 880.6L224.6 879.9L226.1 880.3L227.6 880.7L229.1 879.5L230.6 879.9L232.1 880.4L233.6 879.8L235.1 879.8L236.6 880.1L238.1 880.2L239.6 879.7L241.1 880.0L242.6 878.9L244.1 879.6L245.6 879.5L247.1 879.3L248.6 879.3L250.1 879.1L251.7 879.6L253.2 879.1L254.7 879.2L256.2 878.8L257.7 878.8L259.2 879.1L260.7 878.9L262.2 879.2L263.7 879.3L265.2 879.6L266.7 879.7L268.2 879.8L269.7 878.7L271.2 879.0L272.7 879.3L274.2 879.4L275.7 879.4L277.2 878.6L278.7 878.9L280.3 879.4L281.8 879.7L283.3 879.5L284.8 879.1L286.3 878.6L287.8 877.8L289.3 877.8L290.8 877.9L292.3 877.6L293.8 878.1L295.3 876.7L296.8 877.2L298.3 877.6L299.8 877.3L301.3 877.6L302.8 877.5L304.3 877.5L305.8 877.9L307.3 878.4L308.8 877.1L310.3 877.1L311.8 876.7L313.3 877.2L314.8 877.3L316.3 877.5L317.8 876.8L319.3 877.3L320.8 876.7L322.3 876.2L323.8 875.7L325.3 875.2L326.8 875.4L328.3 875.8L329.8 875.2L331.3 874.9L332.8 875.2L334.3 875.0L335.8 874.7L337.3 874.2L338.8 874.4L340.3 874.7L341.8 874.7L343.4 874.8L344.9 874.8L346.4 875.0L347.9 875.1L349.4 874.6L350.9 874.6L352.4 874.4L353.9 874.9L355.4 874.3L356.9 875.0L358.4 875.3L359.9 875.5L361.4 875.7L362.9 875.4L364.4 875.4L365.9 875.4L367.4 875.2L368.9 874.8L370.5 875.0L372.0 874.9L373.5 874.9L375.0 875.4L376.5 875.1L378.0 875.5L379.5 875.9L381.0 875.8L382.5 875.0L384.0 875.1L385.5 874.8L387.0 875.5L388.5 875.4L390.0 875.4L391.5 875.2L393.0 875.5L394.5 876.1L396.0 876.2L397.5 876.2L399.1 876.2L400.6 875.3L402.1 874.9L403.6 875.2L405.1 875.3L406.6 875.7L408.1 875.6L409.6 875.8L411.1 875.4L412.6 876.8L414.1 876.8L415.6 876.6L417.1 876.9L418.6 877.0L420.1 876.6L421.6 876.0L423.1 875.9L424.6 876.0L426.2 875.5L427.7 875.4L429.2 875.6L430.7 875.9L432.2 875.9L433.7 875.5L435.2 875.9L436.7 875.8L438.2 875.6L439.7 875.5L441.2 875.8L442.7 876.2L444.2 876.4L445.7 875.7L447.2 874.7L448.7 874.6L450.2 875.5L451.7 875.7L453.2 875.6L454.7 876.3L456.2 876.6L457.7 876.7L459.2 876.8L460.7 877.6L462.2 877.6L463.7 877.9L465.2 877.9L466.7 878.7L468.2 878.6L469.6 878.1L471.1 878.7L472.6 879.1L474.1 879.4L475.6 879.3L477.1 878.9L478.6 878.6L480.1 878.5L481.6 878.5L483.1 878.4L484.6 879.5L486.1 879.5L487.7 879.8L489.2 879.5L490.7 878.9L492.2 878.9L493.7 879.1L495.2 879.1L496.7 879.1L498.2 879.7L499.7 880.6L501.2 880.8L502.7 880.9L504.2 880.7L505.7 880.9L507.2 880.7L508.7 881.4L510.2 880.4L511.7 880.2L513.2 880.9L514.7 880.3L516.2 880.2L517.7 880.6L519.2 879.9L520.7 881.0L522.2 881.2L523.8 881.6L525.3 881.6L526.8 882.4L528.3 882.3L529.8 882.3L531.3 882.3L532.8 881.9" stroke="#00ee00" stroke-width="1.8" fill="none" stroke-linejoin="round" opacity="1.0"/>
<path d="M74.7 1018.7L76.2 1018.3L77.6 1017.6L79.1 1017.2L80.5 1016.7L82.0 1016.2L83.3 1015.9L84.5 1014.7L85.5 1014.5L86.5 1012.9L87.4 1012.0L88.3 1010.8L89.2 1009.4L89.9 1007.6L90.5 1006.9L91.1 1005.2L91.6 1003.6L92.1 1002.6L92.6 1000.8L93.1 999.5L93.6 997.3L94.1 996.5L94.6 994.7L95.2 994.5L95.7 993.0L96.4 992.0L97.0 990.0L97.7 988.3L98.3 987.2L99.0 986.0L99.7 985.0L100.4 982.9L101.1 981.8L101.8 980.1L102.6 979.1L103.3 978.1L104.0 977.2L104.8 975.2L105.5 973.8L106.2 972.7L107.0 970.4L107.7 969.2L108.4 967.6L109.1 967.1L109.8 966.6L110.6 965.8L111.3 963.8L112.0 961.8L112.7 961.1L113.5 960.0L114.3 958.1L115.1 957.5L115.9 956.4L116.8 954.5L117.8 952.9L118.8 952.3L119.9 951.3L121.0 949.6L122.1 949.0L123.3 947.8L124.5 946.7L125.7 945.7L126.9 945.6L128.1 944.5L129.4 943.6L130.6 942.6L131.8 941.9L133.1 940.5L134.3 939.7L135.6 938.5L136.9 938.1L138.1 937.1L139.4 936.5L140.6 935.0L141.9 934.5L143.1 933.7L144.3 933.8L145.6 932.4L146.8 931.7L148.1 930.4L149.4 929.9L150.7 928.7L152.0 928.2L153.3 926.9L154.6 926.9L156.0 925.6L157.3 925.8L158.7 925.0L160.1 924.7L161.5 923.8L162.9 923.5L164.3 923.0L165.8 922.5L167.2 922.5L168.7 921.3L170.1 921.1L171.6 920.6L173.1 920.4L174.5 919.8L176.0 920.2L177.5 919.5L179.0 919.3L180.4 918.8L181.9 918.6L183.4 918.5L184.9 918.8L186.3 916.8L187.8 917.5L189.3 917.1L190.8 917.1L192.3 916.6L193.7 916.5L195.2 916.8L196.7 916.1L198.2 915.8L199.6 915.3L201.1 914.9L202.6 914.8L204.1 913.5L205.6 913.6L207.0 912.1L208.5 912.7L210.0 912.2L211.5 912.7L213.0 912.7L214.4 912.8L215.9 912.6L217.4 912.0L218.8 910.7L220.3 910.8L221.7 909.8L223.2 910.1L224.7 909.3L226.1 909.2L227.6 908.8L229.1 908.8L230.6 908.6L232.1 908.4L233.6 907.6L235.1 908.3L236.6 907.5L238.1 907.9L239.6 907.1L241.1 907.9L242.6 907.9L244.1 908.0L245.6 907.9L247.1 908.2L248.6 908.0L250.2 908.1L251.7 908.0L253.2 908.0L254.7 907.7L256.2 908.3L257.7 909.1L259.2 909.3L260.7 909.4L262.2 909.2L263.7 909.5L265.2 909.4L266.7 909.8L268.2 909.5L269.7 910.1L271.2 909.8L272.7 911.2L274.2 910.6L275.7 911.2L277.2 911.2L278.7 911.1L280.2 911.1L281.7 911.0L283.2 911.2L284.7 911.3L286.2 911.6L287.7 911.6L289.2 911.7L290.7 911.3L292.2 911.0L293.8 912.4L295.3 912.2L296.8 911.5L298.3 912.5L299.8 911.9L301.3 911.4L302.8 911.1L304.3 911.4L305.8 911.2L307.3 911.7L308.8 911.7L310.3 911.7L311.9 911.9L313.4 911.8L314.9 912.0L316.4 911.5L317.9 911.0L319.4 911.3L320.9 911.7L322.4 911.6L323.9 910.6L325.4 910.7L326.9 910.1L328.4 910.0L329.9 909.4L331.4 909.1L332.9 909.4L334.4 909.4L335.9 909.4L337.4 909.0L338.9 909.1L340.4 909.2L341.9 909.2L343.4 908.5L344.9 909.1L346.4 909.4L347.9 909.5L349.4 909.0L350.9 909.6L352.4 908.5L353.9 910.0L355.4 909.6L356.9 910.1L358.4 910.1L359.9 910.5L361.4 911.2L362.9 911.5L364.4 911.2L365.9 911.6L367.4 911.1L368.9 911.2L370.4 911.1L371.9 911.4L373.4 912.0L374.9 912.0L376.4 913.1L377.9 912.8L379.4 913.4L380.9 913.0L382.4 913.3L383.9 913.1L385.4 913.6L386.9 913.8L388.4 913.4L389.9 914.0L391.4 914.4L392.9 914.8L394.4 915.0L395.9 915.2L397.4 914.6L398.9 914.2L400.4 915.2L401.9 915.1L403.4 915.1L404.9 915.4L406.4 915.3L407.9 914.8L409.4 915.2L410.9 915.2L412.4 915.5L413.9 915.4L415.5 916.1L417.0 915.8L418.5 916.3L420.0 916.6L421.5 915.9L423.0 916.2L424.5 916.3L426.0 916.9L427.5 917.5L429.0 916.5L430.5 917.3L432.0 916.9L433.5 917.0L435.1 917.0L436.6 916.6L438.1 916.6L439.6 916.4L441.1 917.0L442.6 916.5L444.1 916.9L445.6 916.8L447.1 916.5L448.6 917.2L450.1 917.3L451.6 917.8L453.2 917.2L454.7 916.7L456.2 916.6L457.7 917.0L459.2 917.0L460.7 917.3L462.2 917.5L463.7 917.1L465.2 917.4L466.7 917.1L468.2 916.3L469.7 916.8L471.2 917.6L472.7 917.2L474.2 917.5L475.7 918.1L477.2 918.6L478.7 919.2L480.2 920.0L481.7 919.9L483.1 919.7L484.6 920.1L486.1 920.1L487.6 920.4L489.1 920.8L490.6 920.2L492.1 920.2L493.6 920.4L495.1 920.3L496.6 920.5L498.1 920.4L499.6 921.1L501.1 921.4L502.6 921.7L504.1 922.0L505.6 921.8L507.2 921.6L508.7 921.0L510.2 922.1L511.7 922.3L513.2 921.8L514.7 922.1L516.2 922.0L517.7 922.2L519.2 921.4L520.7 921.7L522.2 922.6L523.7 922.0L525.2 922.2L526.7 922.4L528.3 922.7L529.8 923.1L531.3 922.9L532.8 923.4" stroke="#0000f0" stroke-width="1.8" fill="none" stroke-linejoin="round" opacity="1.0"/>
<path d="M74.7 1018.7L75.0 1019.6L75.3 1018.2L75.6 1016.7L75.8 1015.5L76.1 1014.1L76.3 1012.8L76.5 1011.3L76.8 1010.2L77.0 1008.3L77.2 1007.7L77.4 1006.0L77.7 1003.9L77.9 1002.6L78.1 1001.2L78.3 999.3L78.5 998.4L78.8 996.3L79.0 994.6L79.2 992.8L79.4 991.3L79.6 990.0L79.9 988.5L80.1 986.6L80.3 985.5L80.5 983.8L80.7 982.4L81.0 981.3L81.2 980.2L81.4 978.5L81.6 976.4L81.9 974.4L82.1 972.5L82.3 971.3L82.5 970.4L82.7 969.1L82.9 968.3L83.1 966.9L83.3 965.6L83.5 963.0L83.7 961.3L83.9 960.1L84.1 958.7L84.3 956.8L84.4 955.5L84.6 953.8L84.8 952.6L84.9 951.4L85.1 950.2L85.3 948.5L85.4 946.4L85.6 945.1L85.8 943.4L85.9 942.0L86.1 940.1L86.3 938.9L86.4 937.3L86.6 936.0L86.7 934.2L86.9 932.6L87.1 931.4L87.2 929.9L87.4 928.5L87.5 926.8L87.7 925.6L87.9 923.8L88.0 923.0L88.2 921.9L88.4 920.0L88.5 918.9L88.7 917.4L88.9 915.4L89.1 913.4L89.2 911.8L89.4 910.5L89.6 909.4L89.8 907.6L90.0 906.4L90.1 905.0L90.3 903.7L90.5 902.6L90.7 900.5L90.9 898.9L91.1 897.3L91.3 895.5L91.5 894.2L91.7 892.7L91.9 891.8L92.1 890.6L92.3 888.6L92.6 887.0L92.8 885.2L93.0 883.7L93.2 881.9L93.5 880.4L93.7 879.1L93.9 878.0L94.2 876.8L94.4 874.8L94.7 872.9L94.9 871.9L95.2 870.3L95.5 869.1L95.7 867.8L96.0 866.1L96.3 864.3L96.6 863.4L96.9 861.7L97.2 860.0L97.5 858.3L97.8 856.9L98.1 855.4L98.4 854.3L98.8 852.8L99.1 851.2L99.5 849.7L99.8 848.5L100.2 846.2L100.6 845.7L101.0 844.6L101.5 843.0L101.9 842.1L102.3 840.7L102.8 838.9L103.3 837.3L103.8 835.3L104.2 834.5L104.7 833.1L105.3 831.5L105.8 829.6L106.3 828.5L106.8 827.1L107.3 825.4L107.8 824.0L108.3 822.6L108.8 820.7L109.3 818.8L109.8 817.5L110.3 816.6L110.8 815.1L111.2 813.8L111.7 812.8L112.1 810.9L112.6 809.2L113.0 807.8L113.5 807.0L113.9 805.0L114.3 804.6L114.8 803.5L115.2 801.8L115.6 800.3L116.1 799.0L116.6 796.9L117.0 794.9L117.5 793.9L118.0 791.9L118.5 790.7L119.0 789.4L119.5 788.1L120.0 786.9L120.5 785.4L121.1 784.2L121.6 783.1L122.2 781.8L122.8 780.4L123.4 778.9L123.9 777.1L124.6 775.1L125.2 774.1L125.8 772.1L126.5 771.2L127.1 770.5L127.8 768.9L128.5 768.5L129.2 766.5L129.9 764.9L130.6 763.7L131.3 762.2L132.1 760.9L132.9 759.4L133.6 758.6L134.4 757.3L135.3 756.4L136.1 754.9L136.9 753.9L137.8 752.3L138.6 750.7L139.5 750.5L140.4 748.8L141.3 747.6L142.3 746.5L143.2 745.7L144.1 743.9L145.1 743.0L146.1 742.1L147.1 741.1L148.1 739.2L149.1 738.0L150.1 736.6L151.1 736.4L152.1 735.0L153.2 734.4L154.2 733.7L155.3 732.4L156.4 731.4L157.4 729.8L158.5 729.1L159.6 727.3L160.7 726.2L161.7 725.4L162.8 723.7L163.9 723.4L165.0 722.3L166.1 720.4L167.2 719.7L168.3 718.6L169.4 718.1L170.5 717.2L171.6 716.2L172.7 715.8L173.8 714.7L174.9 713.8L176.1 712.8L177.2 711.6L178.3 710.1L179.4 708.3L180.6 707.8L181.7 706.5L182.9 706.0L184.0 704.9L185.2 704.5L186.4 703.3L187.5 702.1L188.7 701.2L189.9 699.7L191.1 699.7L192.3 698.9L193.5 697.8L194.7 697.2L196.0 696.2L197.2 695.3L198.4 694.2L199.7 693.5L200.9 692.6L202.2 691.7L203.4 691.0L204.7 690.2L206.0 689.2L207.3 688.4L208.6 687.0L209.9 686.0L211.2 685.7L212.6 685.2L213.9 684.0L215.2 683.5L216.6 682.8L217.9 682.1L219.3 682.4L220.7 681.9L222.0 681.4L223.4 679.5L224.8 679.6L226.2 678.9L227.5 677.8L228.9 677.8L230.3 676.8L231.7 676.3L233.1 675.7L234.5 675.1L235.9 674.2L237.3 674.0L238.7 673.7L240.1 673.0L241.5 673.0L242.9 672.0L244.3 671.2L245.7 671.2L247.1 670.9L248.5 670.2L250.0 670.0L251.4 669.2L252.8 669.0L254.2 668.8L255.6 668.4L257.0 668.1L258.4 666.8L259.8 665.9L261.2 664.9L262.6 664.3L264.0 664.2L265.4 663.9L266.8 663.4L268.2 663.2L269.6 662.7L271.0 662.6L272.4 661.2L273.8 660.8L275.1 659.5L276.5 659.0L277.9 658.6L279.3 657.3L280.7 657.4L282.0 656.2L283.4 656.2L284.8 655.3L286.2 655.0L287.5 654.2L288.9 653.7L290.3 652.8L291.7 652.0L293.1 651.1L294.4 651.0L295.8 650.4L297.2 650.3L298.6 649.9L300.0 649.8L301.5 649.8L302.9 648.6L304.3 648.5L305.7 646.9L307.1 646.3L308.6 646.0L310.0 645.7L311.5 645.4L312.9 645.4L314.4 644.5L315.8 644.4L317.3 643.9L318.8 643.0L320.3 643.3L321.8 643.1L323.3 642.9L324.7 642.7L326.2 642.3L327.7 642.6L329.2 641.9L330.8 642.1L332.3 642.4L333.8 641.9L335.3 642.6L336.8 642.5L338.3 642.2L339.8 642.3L341.3 642.4L342.8 642.5L344.3 642.7L345.8 642.3L347.3 641.7L348.8 641.7L350.3 642.5L351.8 641.6L353.3 641.8L354.8 642.0L356.3 641.9L357.8 642.0L359.3 641.4L360.8 642.1L362.3 641.2L363.8 641.5L365.3 641.5L366.8 641.0L368.3 640.9L369.7 640.4L371.2 639.9L372.7 639.5L374.2 639.4L375.7 639.5L377.1 638.9L378.6 638.3L380.1 637.7L381.6 637.2L383.0 636.8L384.5 636.7L386.0 636.6L387.5 636.6L389.0 636.1L390.4 635.5L391.9 635.0L393.4 635.0L394.9 634.4L396.3 634.8L397.8 635.3L399.3 634.8L400.8 634.5L402.2 634.6L403.7 633.1L405.2 633.3L406.7 632.7L408.2 632.3L409.7 632.6L411.1 632.9L412.6 632.9L414.1 632.7L415.6 632.2L417.1 631.5L418.6 631.2L420.1 630.4L421.6 630.5L423.1 630.7L424.6 630.5L426.1 630.8L427.6 630.0L429.0 630.0L430.5 629.5L432.0 629.8L433.5 629.2L435.0 629.0L436.5 628.5L438.0 628.5L439.5 628.1L441.0 628.0L442.6 628.6L444.1 627.6L445.6 628.0L447.1 628.1L448.6 629.0L450.1 628.6L451.6 628.7L453.1 628.9L454.6 629.0L456.1 628.4L457.6 628.1L459.1 627.5L460.6 627.2L462.1 628.2L463.6 628.4L465.1 628.9L466.6 628.9L468.1 628.9L469.6 629.6L471.1 629.9L472.6 629.4L474.1 629.9L475.6 629.7L477.1 628.9L478.7 629.1L480.2 629.0L481.7 629.4L483.2 629.3L484.7 628.3L486.2 628.6L487.7 629.1L489.2 629.0L490.7 628.8L492.2 629.0L493.7 628.8L495.2 629.2L496.7 628.9L498.2 629.8L499.7 629.9L501.2 630.3L502.7 630.3L504.2 630.4L505.7 630.3L507.2 630.0L508.7 629.2L510.2 629.8L511.7 629.7L513.2 629.4L514.7 630.5L516.3 630.0L517.8 629.4L519.3 629.7L520.8 629.7L522.3 629.7L523.8 630.1L525.3 629.5L526.8 630.1L528.3 629.5L529.8 629.8L531.3 629.8L532.8 629.3" stroke="#9400d8" stroke-width="1.5" fill="none" stroke-linejoin="round" opacity="1.0"/>
<path d="M74.7 1018.7L74.8 1020.3L75.1 1019.1L75.4 1017.7L75.6 1015.9L75.8 1013.9L76.0 1013.1L76.1 1011.2L76.3 1009.2L76.5 1008.0L76.7 1006.6L76.9 1005.3L77.1 1004.1L77.3 1002.4L77.4 1000.8L77.6 999.5L77.8 997.8L78.0 996.3L78.2 994.5L78.4 992.9L78.6 992.0L78.8 990.1L79.0 988.8L79.2 987.2L79.4 985.8L79.6 984.5L79.8 983.2L80.0 981.7L80.2 979.8L80.4 977.9L80.6 977.2L80.8 975.2L81.1 973.9L81.3 972.3L81.5 971.2L81.7 970.0L81.9 967.8L82.1 966.4L82.3 965.2L82.5 964.4L82.6 962.5L82.8 960.8L83.0 959.2L83.2 958.2L83.3 956.0L83.5 954.6L83.6 953.9L83.8 952.1L84.0 950.7L84.1 949.0L84.3 947.8L84.4 946.1L84.6 943.9L84.7 942.2L84.9 941.0L85.0 939.9L85.2 938.1L85.3 936.1L85.5 935.1L85.6 933.7L85.8 932.2L85.9 930.9L86.1 929.5L86.2 927.9L86.4 926.2L86.5 924.3L86.7 922.8L86.8 921.2L87.0 920.4L87.1 919.1L87.3 917.7L87.5 916.4L87.6 914.8L87.8 912.9L88.0 911.4L88.1 909.5L88.3 908.0L88.5 906.2L88.7 905.4L88.9 904.5L89.0 902.8L89.2 900.9L89.4 898.8L89.6 897.2L89.8 896.2L90.0 894.5L90.2 893.7L90.5 892.0L90.7 890.7L90.9 888.6L91.1 887.2L91.3 885.8L91.6 884.4L91.8 882.6L92.0 881.4L92.3 879.9L92.5 878.8L92.8 877.4L93.0 875.9L93.3 874.5L93.6 872.4L93.8 870.9L94.1 869.5L94.4 868.0L94.7 866.3L95.0 865.0L95.3 862.9L95.6 862.0L95.9 860.0L96.2 858.9L96.5 856.9L96.8 855.8L97.2 854.6L97.5 853.5L97.9 851.6L98.2 850.7L98.6 848.8L98.9 848.1L99.3 846.0L99.7 844.1L100.1 842.5L100.5 841.7L100.9 840.3L101.3 839.3L101.7 838.1L102.1 837.1L102.5 835.8L102.9 833.5L103.4 831.7L103.8 829.7L104.3 827.7L104.7 826.5L105.2 825.7L105.6 823.8L106.1 823.3L106.6 821.6L107.1 820.2L107.6 818.9L108.0 817.2L108.5 815.7L109.0 814.5L109.5 812.4L110.0 811.1L110.6 809.4L111.1 808.3L111.6 807.8L112.1 806.2L112.6 804.5L113.1 803.0L113.7 802.0L114.2 800.4L114.7 798.4L115.3 797.4L115.8 795.7L116.4 794.5L116.9 793.2L117.5 792.1L118.1 790.4L118.6 788.9L119.2 787.9L119.8 786.0L120.3 784.3L120.9 783.3L121.5 781.7L122.1 780.6L122.7 779.9L123.3 778.2L123.9 776.3L124.6 774.9L125.2 774.1L125.8 772.7L126.5 771.8L127.1 770.5L127.8 769.2L128.4 767.4L129.1 765.5L129.8 764.4L130.4 763.2L131.1 761.9L131.8 761.0L132.5 759.1L133.3 758.1L134.0 756.7L134.7 755.3L135.5 754.3L136.2 752.5L137.0 751.8L137.8 749.2L138.6 748.9L139.4 747.1L140.2 745.5L141.0 744.7L141.9 743.6L142.7 742.7L143.6 741.7L144.5 739.9L145.4 738.9L146.3 737.9L147.3 736.8L148.2 735.4L149.2 734.4L150.2 732.8L151.2 731.3L152.2 730.8L153.2 729.8L154.2 728.7L155.3 727.8L156.3 726.6L157.2 725.5L158.2 724.6L159.2 723.7L160.1 722.1L161.0 721.0L161.9 719.9L162.8 717.9L163.6 716.5L164.5 715.2L165.3 714.6L166.1 713.2L166.9 712.4L167.7 710.6L168.5 709.3L169.3 707.8L170.2 706.1L171.0 704.6L171.8 703.9L172.7 702.2L173.6 701.3L174.6 700.2L175.5 698.7L176.6 698.6L177.6 697.4L178.7 696.2L179.9 694.9L181.1 693.7L182.3 693.0L183.5 692.9L184.8 691.8L186.1 691.0L187.4 690.7L188.7 690.6L190.0 689.1L191.3 688.7L192.7 687.0L194.0 686.1L195.3 685.2L196.6 684.6L197.9 684.1L199.2 683.5L200.4 682.4L201.7 681.9L203.0 681.3L204.3 680.5L205.6 680.1L206.8 679.1L208.1 677.8L209.4 677.0L210.7 675.8L211.9 675.3L213.2 673.9L214.5 673.6L215.8 672.9L217.1 672.4L218.3 671.5L219.6 670.6L220.9 669.4L222.2 668.2L223.5 668.1L224.8 667.4L226.1 667.4L227.4 666.9L228.7 665.8L230.0 664.7L231.4 664.2L232.7 663.1L234.0 662.3L235.3 661.5L236.7 661.0L238.0 660.3L239.4 659.5L240.7 659.4L242.1 659.6L243.5 658.2L244.9 657.6L246.3 657.4L247.6 656.6L249.0 655.6L250.5 655.1L251.9 654.2L253.3 654.0L254.7 653.3L256.1 653.1L257.6 652.9L259.0 651.9L260.5 651.9L261.9 651.6L263.4 651.0L264.8 650.4L266.3 650.3L267.8 650.5L269.2 650.2L270.7 649.6L272.2 649.7L273.7 649.1L275.1 648.5L276.6 647.8L278.1 648.0L279.6 647.3L281.1 647.5L282.5 647.5L284.0 647.1L285.5 646.2L287.0 645.9L288.5 646.1L290.0 646.1L291.5 645.7L293.0 645.5L294.4 645.8L295.9 645.5L297.4 644.8L298.9 644.3L300.4 644.3L301.9 643.5L303.4 643.6L304.9 643.4L306.4 643.6L307.9 643.4L309.3 642.7L310.8 643.4L312.3 642.9L313.8 642.0L315.3 641.8L316.8 642.0L318.3 641.0L319.8 641.4L321.2 640.9L322.7 640.9L324.2 641.6L325.7 641.3L327.2 640.2L328.6 640.1L330.1 639.1L331.6 638.7L333.1 638.3L334.5 638.4L336.0 638.5L337.5 638.3L339.0 638.3L340.4 637.9L341.9 637.2L343.4 636.5L344.8 636.4L346.3 636.0L347.8 635.3L349.2 634.8L350.7 634.6L352.2 634.1L353.6 634.0L355.1 634.1L356.5 634.1L358.0 633.5L359.5 633.0L360.9 632.6L362.4 632.4L363.9 632.5L365.3 631.9L366.8 630.9L368.3 630.6L369.7 629.3L371.2 629.1L372.7 629.2L374.1 629.1L375.6 629.4L377.1 629.6L378.5 628.7L380.0 629.0L381.5 628.9L382.9 628.7L384.4 628.0L385.9 628.0L387.4 627.3L388.8 627.0L390.3 626.5L391.8 626.4L393.3 625.1L394.7 625.1L396.2 624.9L397.7 625.3L399.2 623.9L400.7 623.8L402.2 623.9L403.6 623.8L405.1 623.3L406.6 623.5L408.1 623.0L409.6 623.0L411.1 622.4L412.6 622.5L414.1 622.1L415.6 622.0L417.1 621.7L418.6 621.9L420.1 621.7L421.6 621.5L423.1 621.8L424.6 620.8L426.1 620.5L427.6 620.3L429.1 620.4L430.6 620.3L432.1 619.5L433.6 620.0L435.1 620.7L436.6 620.6L438.1 620.3L439.6 620.5L441.1 620.5L442.6 619.8L444.1 619.7L445.6 620.4L447.1 620.1L448.6 619.6L450.1 620.0L451.6 619.9L453.1 619.3L454.6 619.5L456.1 620.0L457.6 620.1L459.1 620.5L460.6 620.4L462.1 620.0L463.7 619.9L465.2 619.2L466.7 619.0L468.2 618.9L469.7 619.3L471.2 619.3L472.7 619.7L474.2 619.9L475.7 620.0L477.2 619.7L478.7 619.7L480.2 619.7L481.7 619.8L483.2 619.4L484.7 619.4L486.2 619.3L487.7 619.7L489.2 620.0L490.7 619.8L492.2 619.5L493.8 619.4L495.3 618.5L496.8 618.3L498.3 618.3L499.8 618.8L501.3 618.7L502.8 619.3L504.3 619.3L505.8 619.1L507.3 618.1L508.8 618.2L510.3 618.6L511.8 618.5L513.3 617.7L514.8 617.4L516.3 617.0L517.8 617.2L519.3 617.6L520.8 617.5L522.3 617.2L523.8 617.5L525.3 616.5L526.8 617.1L528.3 616.5L529.8 616.5L531.3 616.4L532.8 616.5" stroke="#9400d8" stroke-width="2.4" fill="none" stroke-linejoin="round" opacity="1.0"/>
<path d="M74.7 1018.7L74.7 1020.3L74.8 1019.6L74.9 1018.0L74.9 1016.0L75.0 1014.8L75.0 1013.3L75.1 1011.9L75.1 1010.8L75.2 1009.5L75.2 1008.1L75.3 1006.8L75.3 1005.0L75.4 1002.8L75.4 1001.2L75.5 1000.3L75.5 998.7L75.6 996.8L75.6 995.5L75.7 994.0L75.7 992.7L75.8 991.3L75.8 989.4L75.8 987.8L75.9 986.4L75.9 985.1L76.0 983.5L76.0 982.2L76.1 981.0L76.1 978.8L76.2 977.3L76.2 975.8L76.3 974.0L76.3 972.5L76.4 971.5L76.5 970.0L76.5 968.2L76.6 967.1L76.6 965.4L76.7 963.8L76.7 962.6L76.8 961.4L76.8 959.4L76.9 958.1L76.9 955.8L77.0 954.5L77.0 953.1L77.1 952.0L77.2 951.1L77.2 949.7L77.3 947.7L77.3 945.7L77.4 944.1L77.4 942.7L77.5 941.3L77.6 939.7L77.6 938.2L77.7 937.3L77.8 935.7L77.8 934.2L77.9 933.0L77.9 931.4L78.0 929.6L78.1 927.9L78.1 926.8L78.2 925.3L78.3 923.9L78.3 922.2L78.4 920.4L78.5 918.6L78.5 917.1L78.6 915.5L78.7 914.3L78.7 913.0L78.8 911.8L78.9 910.4L79.0 908.4L79.0 906.7L79.1 904.5L79.2 903.0L79.3 901.4L79.3 900.2L79.4 898.6L79.5 897.1L79.6 895.8L79.6 893.8L79.7 892.8L79.8 891.5L79.9 890.3L80.0 888.3L80.0 887.1L80.1 885.3L80.2 884.7L80.3 882.9L80.4 881.6L80.5 879.6L80.6 878.2L80.6 876.5L80.7 874.8L80.8 873.1L80.9 871.6L81.0 870.1L81.1 868.5L81.2 868.0L81.3 866.4L81.4 864.9L81.4 863.1L81.5 861.3L81.6 859.9L81.7 858.7L81.8 857.1L81.9 855.9L82.0 853.7L82.1 852.4L82.2 850.5L82.3 849.6L82.4 848.5L82.5 847.2L82.6 845.6L82.7 843.4L82.8 842.0L82.9 841.0L83.0 838.9L83.1 837.0L83.2 836.0L83.4 834.3L83.5 832.4L83.6 831.1L83.7 830.2L83.8 828.4L83.9 827.0L84.0 825.6L84.1 824.5L84.3 822.2L84.4 821.1L84.5 819.5L84.6 818.2L84.7 816.8L84.9 815.1L85.0 813.7L85.1 812.1L85.2 810.9L85.4 808.6L85.5 807.7L85.6 806.1L85.8 804.1L85.9 803.1L86.0 801.5L86.2 799.6L86.3 798.5L86.5 797.2L86.6 795.6L86.7 794.0L86.9 793.1L87.0 791.8L87.2 790.1L87.3 788.6L87.5 787.2L87.7 785.4L87.8 783.2L88.0 781.7L88.1 780.7L88.3 779.0L88.5 777.4L88.7 775.9L88.8 774.6L89.0 773.1L89.2 770.8L89.4 770.1L89.6 768.2L89.8 766.6L90.0 765.2L90.2 763.8L90.4 762.5L90.6 761.4L90.8 759.9L91.0 758.6L91.2 756.4L91.4 755.4L91.7 753.6L91.9 752.6L92.1 751.3L92.4 750.2L92.6 748.2L92.8 746.9L93.1 745.7L93.3 744.2L93.6 742.4L93.9 741.1L94.1 739.5L94.4 737.7L94.7 736.3L95.0 734.9L95.3 732.6L95.6 731.8L95.9 730.8L96.2 728.2L96.5 726.6L96.8 725.3L97.1 723.8L97.5 722.7L97.8 721.4L98.1 720.5L98.5 718.4L98.8 717.0L99.2 715.4L99.6 713.9L99.9 712.6L100.3 711.2L100.7 710.3L101.1 708.3L101.5 706.5L101.9 705.4L102.3 704.6L102.7 702.8L103.1 701.2L103.5 699.6L104.0 697.8L104.4 696.1L104.8 695.1L105.3 692.5L105.7 691.8L106.2 690.5L106.7 689.4L107.1 687.9L107.6 686.8L108.1 685.3L108.6 683.6L109.1 682.0L109.6 680.9L110.1 679.6L110.6 678.0L111.2 676.4L111.7 675.7L112.3 674.2L112.8 672.4L113.4 671.0L114.0 669.8L114.6 668.3L115.2 667.4L115.8 666.2L116.5 664.7L117.1 663.0L117.8 661.7L118.4 659.8L119.1 658.6L119.8 657.6L120.5 655.6L121.3 654.4L122.0 653.1L122.8 651.8L123.5 649.8L124.3 649.0L125.1 648.1L125.9 647.8L126.8 646.7L127.6 645.0L128.5 643.7L129.3 642.4L130.2 641.3L131.1 639.4L132.0 638.5L133.0 636.8L133.9 635.5L134.9 634.9L135.9 633.5L136.9 632.3L137.9 632.0L138.9 630.8L140.0 629.2L141.0 628.4L142.1 627.0L143.2 625.9L144.3 624.7L145.4 624.1L146.6 622.9L147.7 622.0L148.9 621.8L150.0 620.6L151.2 619.8L152.4 618.7L153.7 617.7L154.9 616.8L156.1 616.2L157.4 615.3L158.7 614.2L160.0 614.0L161.2 613.1L162.5 612.1L163.9 611.6L165.2 610.7L166.5 610.1L167.8 609.9L169.2 609.1L170.6 607.9L171.9 607.2L173.3 606.4L174.7 606.1L176.1 605.1L177.4 604.4L178.8 603.9L180.2 603.5L181.7 602.8L183.1 602.5L184.5 602.0L185.9 601.8L187.3 601.8L188.8 601.4L190.2 600.5L191.6 599.2L193.1 598.9L194.5 598.9L196.0 598.7L197.4 598.1L198.9 597.7L200.3 597.0L201.8 596.5L203.3 596.0L204.7 595.9L206.2 595.5L207.6 595.0L209.1 594.6L210.6 594.3L212.0 593.8L213.5 593.7L215.0 593.8L216.5 593.2L217.9 592.5L219.4 592.2L220.9 591.7L222.3 591.6L223.8 591.5L225.3 591.7L226.8 591.4L228.2 591.2L229.7 591.1L231.2 590.7L232.7 590.1L234.2 590.1L235.6 589.6L237.1 589.2L238.6 589.1L240.1 589.2L241.6 588.6L243.0 588.3L244.5 587.8L246.0 587.7L247.5 587.5L249.0 586.6L250.4 586.6L251.9 586.5L253.4 586.3L254.9 586.3L256.4 585.4L257.8 585.1L259.3 584.6L260.8 584.5L262.3 584.3L263.8 584.4L265.3 584.5L266.7 584.5L268.2 584.4L269.7 583.9L271.2 583.3L272.7 582.9L274.2 582.8L275.7 582.6L277.2 582.4L278.6 582.7L280.1 582.2L281.6 582.1L283.1 581.5L284.6 581.3L286.1 581.0L287.6 580.5L289.1 580.6L290.6 581.0L292.1 580.5L293.5 579.9L295.0 580.5L296.5 579.6L298.0 579.9L299.5 579.3L301.0 579.4L302.5 578.7L304.0 578.4L305.5 578.0L307.0 577.5L308.5 577.4L310.0 577.5L311.5 577.7L313.0 577.3L314.5 577.5L316.0 577.6L317.5 577.8L319.0 577.1L320.5 577.0L322.0 576.9L323.5 577.3L325.0 576.6L326.5 576.4L328.0 576.5L329.5 575.8L331.0 575.7L332.5 575.6L334.0 575.9L335.5 575.8L337.0 575.5L338.5 575.2L340.0 575.2L341.5 575.3L343.0 575.5L344.5 575.0L346.0 574.9L347.5 575.1L349.0 574.9L350.5 574.5L352.0 574.3L353.5 574.4L355.0 574.2L356.5 574.0L358.0 574.4L359.5 574.8L361.0 574.2L362.5 574.0L364.0 573.4L365.5 574.3L367.0 574.5L368.6 574.5L370.1 574.5L371.6 574.2L373.1 573.9L374.6 573.1L376.1 573.1L377.6 573.5L379.1 573.2L380.6 573.2L382.1 573.7L383.6 574.0L385.1 573.7L386.6 574.0L388.1 573.7L389.6 573.5" stroke="#ff0000" stroke-width="1.4" fill="none" stroke-linejoin="round" opacity="1.0"/>
<path d="M74.7 1018.7L74.7 1017.3L74.7 1016.0L74.7 1014.6L74.8 1012.6L74.8 1011.1L74.8 1009.8L74.9 1008.1L74.9 1006.6L74.9 1004.7L75.0 1003.3L75.0 1001.5L75.0 999.7L75.1 998.7L75.1 997.4L75.2 996.0L75.2 995.1L75.3 993.2L75.3 992.0L75.3 990.1L75.4 988.5L75.4 986.9L75.5 986.0L75.5 984.2L75.6 982.6L75.6 981.1L75.7 979.9L75.7 978.6L75.7 977.3L75.8 975.9L75.8 974.7L75.9 972.4L75.9 970.7L76.0 968.9L76.0 967.6L76.1 966.2L76.1 964.4L76.2 962.9L76.2 961.6L76.3 960.5L76.3 959.0L76.4 957.4L76.4 955.5L76.5 954.1L76.5 952.3L76.6 950.6L76.7 949.0L76.7 947.4L76.8 946.3L76.8 944.9L76.9 943.4L76.9 941.7L77.0 939.4L77.0 938.2L77.1 937.1L77.1 935.9L77.2 934.7L77.2 933.4L77.3 931.1L77.4 929.9L77.4 927.8L77.5 926.8L77.5 925.6L77.6 924.3L77.6 922.9L77.7 921.4L77.8 919.7L77.8 918.1L77.9 916.9L77.9 915.0L78.0 913.2L78.0 911.8L78.1 910.5L78.2 909.5L78.2 907.9L78.3 906.5L78.3 904.7L78.4 903.3L78.5 901.8L78.5 899.9L78.6 898.4L78.6 896.5L78.7 895.0L78.8 893.6L78.8 892.0L78.9 890.8L79.0 888.9L79.0 887.3L79.1 885.7L79.2 884.3L79.2 883.0L79.3 881.5L79.4 880.1L79.5 878.7L79.5 876.8L79.6 875.4L79.7 874.1L79.8 872.8L79.8 871.7L79.9 870.0L80.0 868.7L80.1 867.7L80.1 865.7L80.2 864.2L80.3 862.0L80.4 860.4L80.5 858.5L80.6 857.2L80.6 856.1L80.7 854.2L80.8 853.3L80.9 851.9L81.0 850.3L81.1 848.6L81.2 847.5L81.3 845.8L81.4 844.4L81.5 842.7L81.6 841.5L81.7 839.5L81.8 837.8L81.9 836.6L82.0 835.1L82.1 834.0L82.2 832.5L82.3 831.1L82.4 829.9L82.5 827.6L82.6 825.8L82.7 824.0L82.8 822.5L82.9 821.0L83.0 820.3L83.1 818.8L83.3 817.1L83.4 815.6L83.5 814.4L83.6 813.0L83.7 811.9L83.9 810.7L84.0 808.5L84.1 806.5L84.3 804.5L84.4 803.5L84.5 801.7L84.6 800.5L84.8 799.1L84.9 797.7L85.1 796.4L85.2 794.7L85.3 793.2L85.5 791.6L85.6 790.0L85.8 788.8L85.9 787.4L86.1 786.4L86.2 784.4L86.4 782.9L86.5 781.0L86.7 779.2L86.9 777.8L87.0 776.3L87.2 775.5L87.3 773.3L87.5 772.3L87.7 770.6L87.8 769.7L88.0 768.1L88.2 766.5L88.4 765.0L88.6 763.3L88.7 762.0L88.9 760.3L89.1 758.6L89.3 757.1L89.5 755.9L89.7 754.6L89.9 752.8L90.1 751.4L90.3 750.2L90.5 749.0L90.7 747.1L90.9 745.2L91.1 743.9L91.3 742.2L91.5 741.1L91.7 739.4L91.9 737.6L92.2 736.2L92.4 735.6L92.6 734.3L92.8 732.4L93.1 730.9L93.3 729.7L93.6 727.3L93.8 725.8L94.0 724.6L94.3 723.0L94.5 721.9L94.8 720.6L95.1 719.2L95.3 718.0L95.6 716.0L95.9 714.5L96.2 712.4L96.5 711.4L96.8 709.8L97.1 708.1L97.4 706.6L97.7 705.1L98.0 703.8L98.4 701.8L98.7 700.6L99.1 698.9L99.4 697.5L99.8 696.3L100.2 694.8L100.6 693.6L101.0 691.9L101.5 690.4L101.9 689.1L102.4 687.9L102.8 686.6L103.3 685.1L103.8 684.3L104.3 683.0L104.8 682.1L105.3 680.4L105.8 678.2L106.3 677.0L106.8 675.3L107.4 674.0L107.9 672.6L108.4 671.4L109.0 669.6L109.5 668.3L110.0 666.6L110.6 665.6L111.1 663.8L111.6 662.5L112.2 660.9L112.7 659.5L113.2 657.4L113.8 655.9L114.4 655.2L114.9 653.0L115.5 651.8L116.1 651.4L116.8 650.6L117.4 648.4L118.0 647.2L118.7 646.0L119.4 645.0L120.1 643.0L120.9 641.8L121.6 640.8L122.4 639.5L123.2 638.1L124.0 637.0L124.8 635.4L125.7 634.4L126.5 633.0L127.4 631.7L128.3 630.2L129.3 629.2L130.3 628.2L131.2 627.0L132.2 626.0L133.3 624.9L134.3 623.7L135.4 622.3L136.5 621.4L137.6 620.3L138.7 620.1L139.8 619.3L141.0 618.1L142.1 616.8L143.3 615.6L144.5 615.1L145.7 614.1L146.9 613.4L148.1 612.1L149.3 611.9L150.5 610.9L151.8 609.7L153.0 608.9L154.3 608.1L155.6 607.0L156.9 606.1L158.1 605.5L159.4 604.7L160.7 604.1L162.1 603.7L163.4 602.2L164.7 602.4L166.1 601.9L167.4 601.1L168.7 600.1L170.1 598.8L171.5 598.6L172.8 598.5L174.2 597.5L175.6 597.7L177.0 597.0L178.4 596.4L179.8 595.4L181.2 595.0L182.6 594.9L184.0 594.3L185.4 594.1L186.8 593.5L188.2 592.7L189.7 592.3L191.1 591.3L192.5 590.7L194.0 589.8L195.4 589.6L196.8 589.4L198.3 589.7L199.7 589.1L201.2 589.2L202.6 588.5L204.1 588.2L205.6 587.5L207.0 587.2L208.5 586.4L209.9 585.4L211.4 585.4L212.9 584.9L214.4 584.9L215.8 585.3L217.3 585.0L218.8 584.4L220.2 583.9L221.7 583.7L223.2 582.9L224.7 582.6L226.2 582.5L227.6 582.3L229.1 582.0L230.6 581.1L232.1 581.5L233.6 581.3L235.1 581.2L236.6 581.5L238.1 580.6L239.5 580.9L241.0 580.9L242.5 579.9L244.0 580.2L245.5 579.8L247.0 579.9L248.5 579.6L250.0 579.9L251.5 579.7L253.0 579.1L254.5 578.7L256.0 578.5L257.5 578.1L259.0 578.1L260.5 578.0L262.0 577.9L263.5 577.9L265.0 577.3L266.4 577.5L267.9 577.8L269.4 577.1L270.9 576.9L272.4 577.0L273.9 577.0L275.4 576.5L276.9 576.5L278.4 576.1L279.9 576.0L281.4 576.1L282.9 576.7L284.4 576.0L285.9 575.5L287.4 576.2L288.9 575.7L290.5 575.7L292.0 575.9L293.5 574.9L295.0 574.8L296.5 574.8L298.0 575.3L299.5 575.8L301.0 575.9L302.5 575.9L304.0 575.3L305.5 575.0L307.0 575.4L308.5 575.1L310.0 575.4L311.5 575.5L313.0 575.3L314.5 575.3L316.0 574.9L317.5 574.6L319.0 574.1L320.5 574.2L322.0 574.3L323.5 574.4L325.0 574.1L326.5 574.2L328.0 573.8L329.5 573.6L331.0 573.6L332.5 572.7L334.0 572.8L335.5 572.7L337.0 572.6L338.5 573.0L340.0 573.3L341.5 573.0L343.0 572.9L344.5 573.1L346.0 573.1L347.5 572.8L349.1 573.2L350.6 572.8L352.1 572.4L353.6 572.2L355.1 571.7L356.6 571.7L358.1 571.9L359.6 572.4L361.1 572.8L362.6 572.1L364.1 572.4L365.6 571.9L367.1 572.0L368.6 571.7L370.1 571.3L371.6 572.0L373.1 571.5L374.6 571.2L376.1 570.7L377.6 570.6L379.1 570.9L380.6 571.0L382.1 571.3L383.6 571.4L385.1 571.6L386.6 571.1L388.1 570.7L389.6 571.1" stroke="#ff0000" stroke-width="2.2" fill="none" stroke-linejoin="round" opacity="1.0"/>
<path d="M74.7 1018.7L74.7 1017.2L74.7 1015.7L74.7 1014.2L74.7 1012.7L74.7 1011.2L74.7 1009.7L74.7 1008.2L74.8 1006.7L74.8 1005.2L74.8 1003.7L74.8 1002.2L74.8 1000.7L74.8 999.2L74.9 997.7L74.9 996.2L74.9 994.7L74.9 993.2L74.9 991.6L75.0 990.1L75.0 988.6L75.0 987.1L75.1 985.6L75.1 984.1L75.1 982.6L75.1 981.1L75.2 979.6L75.2 978.1L75.2 976.6L75.3 975.1L75.3 973.6L75.3 972.1L75.4 970.6L75.4 969.1L75.4 967.6L75.5 966.1L75.5 964.6L75.6 963.1L75.6 961.6L75.6 960.1L75.7 958.6L75.7 957.1L75.8 955.6L75.8 954.1L75.8 952.6L75.9 951.1L75.9 949.6L76.0 948.1L76.0 946.6L76.1 945.1L76.1 943.6L76.2 942.1L76.2 940.6L76.3 939.1L76.3 937.6L76.4 936.1L76.4 934.6L76.5 933.1L76.5 931.6L76.6 930.1L76.6 928.6L76.7 927.1L76.7 925.5L76.8 924.0L76.9 922.5L76.9 921.0L77.0 919.5L77.0 918.0L77.1 916.5L77.1 915.0L77.2 913.5L77.3 912.0L77.3 910.5L77.4 909.0L77.5 907.5L77.5 906.0L77.6 904.5L77.7 903.0L77.7 901.5L77.8 900.0L77.9 898.5L77.9 897.0L78.0 895.5L78.1 894.0L78.1 892.5L78.2 891.0L78.3 889.5L78.4 888.0L78.4 886.5L78.5 885.0L78.6 883.5L78.7 882.0L78.8 880.5L78.8 879.0L78.9 877.5L79.0 876.0L79.1 874.5L79.2 873.0L79.2 871.5L79.3 870.0L79.4 868.5L79.5 867.0L79.6 865.5L79.7 864.0L79.8 862.5L79.9 861.0L79.9 859.5L80.0 858.0L80.1 856.5L80.2 855.0L80.3 853.5L80.4 852.0L80.5 850.5L80.6 849.0L80.7 847.5L80.8 846.0L80.8 844.5L80.9 843.0L81.0 841.5L81.1 840.0L81.2 838.5L81.3 837.0L81.4 835.5L81.5 834.0L81.5 832.5L81.6 831.0L81.7 829.5L81.8 828.0L81.9 826.5L82.0 825.0L82.1 823.5L82.1 822.0L82.2 820.5L82.3 819.0L82.4 817.5L82.5 816.0L82.6 814.5L82.7 813.0L82.8 811.5L82.9 810.0L83.0 808.5L83.1 807.0L83.2 805.5L83.3 804.0L83.4 802.5L83.5 801.0L83.6 799.5L83.7 798.0L83.9 796.5L84.0 795.0L84.1 793.5L84.2 792.0L84.3 790.5L84.5 789.0L84.6 787.5L84.7 786.0L84.9 784.5L85.0 783.0L85.1 781.5L85.3 780.0L85.4 778.5L85.6 777.0L85.7 775.5L85.9 774.1L86.0 772.6L86.2 771.1L86.4 769.6L86.5 768.1L86.7 766.6L86.8 765.1L87.0 763.6L87.2 762.1L87.3 760.6L87.5 759.1L87.7 757.6L87.9 756.1L88.1 754.6L88.2 753.1L88.4 751.7L88.6 750.2L88.8 748.7L89.0 747.2L89.2 745.7L89.4 744.2L89.6 742.7L89.8 741.2L90.0 739.7L90.3 738.3L90.5 736.8L90.7 735.3L90.9 733.8L91.1 732.3L91.4 730.8L91.6 729.3L91.9 727.9L92.1 726.4L92.4 724.9L92.6 723.4L92.9 721.9L93.1 720.4L93.4 719.0L93.7 717.5L93.9 716.0L94.2 714.5L94.5 713.1L94.8 711.6L95.1 710.1L95.4 708.6L95.7 707.2L96.0 705.7L96.3 704.2L96.7 702.8L97.0 701.3L97.3 699.8L97.7 698.4L98.0 696.9L98.4 695.4L98.7 694.0L99.1 692.5L99.5 691.1L99.9 689.6L100.3 688.2L100.7 686.7L101.1 685.3L101.5 683.8L101.9 682.4L102.4 681.0L102.8 679.5L103.3 678.1L103.7 676.7L104.2 675.2L104.7 673.8L105.2 672.4L105.7 671.0L106.2 669.6L106.8 668.2L107.3 666.8L107.9 665.4L108.4 664.0L109.0 662.6L109.6 661.2L110.2 659.8L110.8 658.5L111.5 657.1L112.1 655.8L112.8 654.4L113.5 653.1L114.2 651.8L114.9 650.4L115.6 649.1L116.4 647.8L117.1 646.5L117.9 645.2L118.7 644.0L119.5 642.7L120.4 641.4L121.2 640.2L122.1 639.0L122.9 637.7L123.8 636.5L124.7 635.3L125.7 634.1L126.6 633.0L127.5 631.8L128.5 630.7L129.5 629.5L130.5 628.4L131.5 627.3L132.5 626.2L133.5 625.1L134.6 624.0L135.6 622.9L136.7 621.8L137.8 620.8L138.8 619.7L139.9 618.7L141.0 617.7L142.2 616.7L143.3 615.7L144.4 614.7L145.6 613.8L146.7 612.8L147.9 611.9L149.1 610.9L150.3 610.0L151.5 609.1L152.7 608.2L153.9 607.3L155.1 606.4L156.4 605.6L157.6 604.7L158.8 603.9L160.1 603.1L161.4 602.3L162.7 601.5L163.9 600.7L165.2 599.9L166.5 599.2L167.8 598.4L169.1 597.7L170.5 597.0L171.8 596.3L173.1 595.6L174.5 594.9L175.8 594.2L177.2 593.6L178.5 592.9L179.9 592.3L181.3 591.7L182.6 591.1L184.0 590.5L185.4 589.9L186.8 589.3L188.2 588.7L189.6 588.2L191.0 587.6L192.4 587.1L193.8 586.6L195.2 586.1L196.6 585.6L198.0 585.1L199.4 584.6L200.9 584.1L202.3 583.6L203.7 583.2L205.2 582.7L206.6 582.3L208.0 581.9L209.5 581.5L210.9 581.0L212.4 580.6L213.8 580.2L215.3 579.9L216.7 579.5L218.2 579.1L219.7 578.8L221.1 578.4L222.6 578.1L224.0 577.7L225.5 577.4L227.0 577.1L228.4 576.7L229.9 576.4L231.4 576.1L232.9 575.8L234.3 575.5L235.8 575.3L237.3 575.0L238.8 574.7L240.2 574.4L241.7 574.2L243.2 573.9L244.7 573.7L246.2 573.4L247.7 573.2L249.1 573.0L250.6 572.8L252.1 572.5L253.6 572.3L255.1 572.1L256.6 571.9L258.1 571.7L259.6 571.5L261.0 571.3L262.5 571.1L264.0 570.9L265.5 570.8L267.0 570.6L268.5 570.4L270.0 570.3L271.5 570.1L273.0 569.9L274.5 569.8L276.0 569.6L277.5 569.5L279.0 569.3L280.5 569.2L282.0 569.1L283.5 568.9L285.0 568.8L286.5 568.7L288.0 568.6L289.5 568.4L291.0 568.3L292.5 568.2L294.0 568.1L295.4 568.0L296.9 567.9L298.4 567.8L299.9 567.7L301.4 567.6L302.9 567.5L304.4 567.4L305.9 567.3L307.4 567.2L308.9 567.1L310.4 567.0L311.9 567.0L313.4 566.9L315.0 566.8L316.5 566.7L318.0 566.7L319.5 566.6L321.0 566.5L322.5 566.4L324.0 566.4L325.5 566.3L327.0 566.3L328.5 566.2L330.0 566.1L331.5 566.1L333.0 566.0L334.5 566.0L336.0 565.9L337.5 565.9L339.0 565.8L340.5 565.8L342.0 565.7L343.5 565.7L345.0 565.6L346.5 565.6L348.0 565.5L349.5 565.5L351.0 565.4L352.5 565.4L354.0 565.4L355.5 565.3L357.0 565.3L358.5 565.3L360.0 565.2L361.5 565.2L363.0 565.1L364.5 565.1L366.0 565.1L367.5 565.0L369.0 565.0L370.5 565.0L372.0 565.0L373.5 564.9L375.0 564.9L376.5 564.9L378.0 564.8L379.5 564.8L381.0 564.8L382.5 564.8L384.0 564.7L385.6 564.7L387.1 564.7L388.6 564.7L390.1 564.6L391.6 564.6L393.1 564.6L394.6 564.6L396.1 564.5L397.6 564.5L399.1 564.5L400.6 564.5L402.1 564.4L403.6 564.4L405.1 564.4L406.6 564.4L408.1 564.3L409.6 564.3L411.1 564.3L412.6 564.3L414.1 564.3L415.6 564.2L417.1 564.2L418.6 564.2L420.1 564.2L421.6 564.1L423.1 564.1L424.6 564.1L426.1 564.1L427.6 564.0L429.1 564.0L430.6 564.0L432.1 564.0L433.6 563.9L435.1 563.9L436.6 563.9L438.1 563.9L439.6 563.8L441.2 563.8L442.7 563.8L444.2 563.8L445.7 563.7L447.2 563.7L448.7 563.7L450.2 563.6L451.7 563.6L453.2 563.6L454.7 563.5L456.2 563.5L457.7 563.5L459.2 563.5L460.7 563.4L462.2 563.4L463.7 563.4L465.2 563.3L466.7 563.3L468.2 563.2L469.7 563.2L471.2 563.2L472.7 563.1L474.2 563.1L475.7 563.1L477.2 563.0L478.7 563.0L480.2 562.9L481.7 562.9L483.2 562.9L484.7 562.8L486.2 562.8L487.7 562.7L489.2 562.7L490.7 562.6L492.2 562.6L493.7 562.5L495.2 562.5L496.7 562.4L498.2 562.4L499.7 562.3L501.2 562.3L502.7 562.2L504.2 562.2L505.8 562.1L507.3 562.1L508.8 562.0L510.3 562.0L511.8 561.9L513.3 561.8L514.8 561.8L516.3 561.7L517.8 561.7L519.3 561.6L520.8 561.5L522.3 561.5L523.8 561.4L525.3 561.3L526.8 561.3L528.3 561.2L529.8 561.1L531.3 561.1L532.8 561.0" stroke="#000" stroke-width="1.7" fill="none" stroke-linejoin="round" opacity="1.0"/>
<polygon points="257.7,573.8 259.2,577.3 262.9,577.6 260.1,580.1 260.9,583.7 257.7,581.8 254.5,583.7 255.3,580.1 252.5,577.6 256.2,577.3" fill="#ff0000"/>
<polygon points="385.5,621.0 387.0,624.5 390.7,624.8 387.9,627.3 388.7,630.9 385.5,629.0 382.3,630.9 383.1,627.3 380.3,624.8 384.0,624.5" fill="#9400d8"/>
<polygon points="448.3,870.0 449.8,873.5 453.5,873.8 450.7,876.3 451.5,879.9 448.3,878.0 445.1,879.9 445.9,876.3 443.1,873.8 446.8,873.5" fill="#00ee00"/>
<polygon points="465.5,911.5 467.0,915.0 470.7,915.3 467.9,917.8 468.7,921.4 465.5,919.5 462.3,921.4 463.1,917.8 460.3,915.3 464.0,915.0" fill="#0000f0"/>
<path d="M74.7 560V1019.7M74.0 1018.7H533.4M74.7 972.8h3.8M74.7 881.1h3.8M74.7 789.4h3.8M74.7 697.7h3.8M74.7 606.0h3.8M74.7 1018.7v7M189.2 1018.7v7M303.7 1018.7v7M418.3 1018.7v7M532.8 1018.7v7" stroke="#000" stroke-width="1.6" fill="none"/>
<g font-family="'Liberation Serif', 'Times New Roman', serif" font-size="24" fill="#000"><text x="66" y="560.1" dy="0.33em" text-anchor="end">1</text><text x="66" y="651.8" dy="0.33em" text-anchor="end">0.8</text><text x="66" y="743.5" dy="0.33em" text-anchor="end">0.6</text><text x="66" y="835.3" dy="0.33em" text-anchor="end">0.4</text><text x="66" y="927.0" dy="0.33em" text-anchor="end">0.2</text><text x="66" y="1018.7" dy="0.33em" text-anchor="end">0</text><text x="74.7" y="1054.3" text-anchor="middle">0</text><text x="189.2" y="1054.3" text-anchor="middle">4</text><text x="303.7" y="1054.3" text-anchor="middle">8</text><text x="418.3" y="1054.3" text-anchor="middle">12</text><text x="532.8" y="1054.3" text-anchor="middle">16</text></g>
<text transform="translate(28.2 808.3) rotate(-90)" font-family="'Liberation Serif', 'Times New Roman', serif" font-size="27.5" font-weight="bold" font-style="italic" fill="#000">s,m</text>
<text x="276.5" y="1085.3" font-family="'Liberation Serif', 'Times New Roman', serif" font-size="25" fill="#000">τ=<tspan font-style="italic">Dt</tspan></text>
</svg></body></html>
